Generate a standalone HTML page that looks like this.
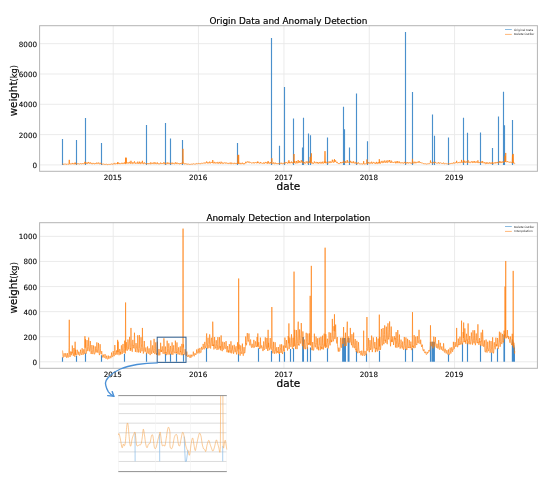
<!DOCTYPE html>
<html><head><meta charset="utf-8"><title>Anomaly Detection</title>
<style>
html,body{margin:0;padding:0;background:#fff;}
svg{display:block}
text{font-family:"DejaVu Sans","Liberation Sans",sans-serif;fill:#000;stroke:#000;stroke-width:0.18px}
.tk{font-size:7.2px;stroke-width:0.1px}
.lg{font-size:2.9px;stroke:none;fill:#222}
.grid{stroke:#e9e9e9;stroke-width:0.9;fill:none}
.spine{stroke:#b4b4b4;stroke-width:1;fill:none}
</style></head><body>
<svg width="550" height="483" viewBox="0 0 550 483">
<rect width="550" height="483" fill="#ffffff"/>
<line class="grid" x1="113.20" x2="113.20" y1="25.7" y2="171.3"/>
<line class="grid" x1="198.48" x2="198.48" y1="25.7" y2="171.3"/>
<line class="grid" x1="283.99" x2="283.99" y1="25.7" y2="171.3"/>
<line class="grid" x1="369.27" x2="369.27" y1="25.7" y2="171.3"/>
<line class="grid" x1="454.55" x2="454.55" y1="25.7" y2="171.3"/>
<line class="grid" x1="39.6" x2="537.4" y1="164.90" y2="164.90"/>
<line class="grid" x1="39.6" x2="537.4" y1="134.60" y2="134.60"/>
<line class="grid" x1="39.6" x2="537.4" y1="104.30" y2="104.30"/>
<line class="grid" x1="39.6" x2="537.4" y1="74.00" y2="74.00"/>
<line class="grid" x1="39.6" x2="537.4" y1="43.70" y2="43.70"/>
<path d="M62.50,164.90V138.96 M76.50,164.90V139.90 M85.50,164.90V117.94 M101.50,164.90V142.93 M146.50,164.90V124.90 M165.50,164.90V122.93 M170.50,164.90V138.46 M182.50,164.90V139.90 M237.50,164.90V142.93 M271.50,164.90V37.99 M279.50,164.90V145.77 M284.50,164.90V87.07 M293.50,164.90V118.62 M302.50,164.90V147.48 M303.50,164.90V117.63 M308.50,164.90V133.54 M310.50,164.90V135.21 M327.50,164.90V137.48 M343.50,164.90V106.72 M344.50,164.90V129.22 M349.50,164.90V147.48 M356.50,164.90V93.39 M367.50,164.90V141.16 M405.50,164.90V32.03 M412.50,164.90V92.07 M432.50,164.90V114.60 M434.50,164.90V135.86 M448.50,164.90V137.48 M463.50,164.90V117.63 M467.50,164.90V132.86 M480.50,164.90V132.54 M492.50,164.90V148.08 M498.50,164.90V116.62 M503.50,164.90V91.73 M504.50,164.90V125.21 M512.50,164.90V119.90" stroke="#4a90cc" stroke-width="1.15" fill="none"/>
<path d="M62.50,163.54 L62.73,163.70 L62.97,164.25 L63.20,164.39 L63.43,164.35 L63.67,164.32 L63.90,164.04 L64.14,163.87 L64.37,164.15 L64.60,164.18 L64.84,164.25 L65.07,164.30 L65.30,164.24 L65.54,164.16 L65.77,163.86 L66.00,164.07 L66.24,164.19 L66.47,164.39 L66.71,164.39 L66.94,164.33 L67.17,164.07 L67.41,163.86 L67.64,164.10 L67.87,164.37 L68.11,164.37 L68.34,164.36 L68.57,164.28 L68.81,163.98 L69.04,163.15 L69.28,159.87 L69.51,163.96 L69.74,164.06 L69.98,164.32 L70.21,164.23 L70.44,163.77 L70.68,163.66 L70.91,163.87 L71.14,164.02 L71.38,164.10 L71.61,163.80 L71.85,163.69 L72.08,163.86 L72.31,162.93 L72.55,163.32 L72.78,163.92 L73.01,163.90 L73.25,164.18 L73.48,164.11 L73.71,163.79 L73.95,163.24 L74.18,163.67 L74.42,163.95 L74.65,164.04 L74.88,164.29 L75.12,162.48 L75.35,164.04 L75.58,163.45 L75.82,163.89 L76.05,164.05 L76.28,164.08 L76.52,164.11 L76.75,163.90 L76.99,163.83 L77.22,163.45 L77.45,163.64 L77.69,163.80 L77.92,163.95 L78.15,164.04 L78.39,163.95 L78.62,163.68 L78.85,163.69 L79.09,163.73 L79.32,164.10 L79.56,164.14 L79.79,164.14 L80.02,164.01 L80.26,163.88 L80.49,163.44 L80.72,163.66 L80.96,163.86 L81.19,163.99 L81.42,164.04 L81.66,164.07 L81.89,163.76 L82.13,163.26 L82.36,163.58 L82.59,163.86 L82.83,163.89 L83.06,164.06 L83.29,163.96 L83.53,163.74 L83.76,163.39 L84.00,163.65 L84.23,163.87 L84.46,163.95 L84.70,163.91 L84.93,161.81 L85.16,163.20 L85.40,162.15 L85.63,162.99 L85.86,163.43 L86.10,163.93 L86.33,163.70 L86.57,163.49 L86.80,163.37 L87.03,162.28 L87.27,163.05 L87.50,163.54 L87.73,163.60 L87.97,163.61 L88.20,163.40 L88.43,163.05 L88.67,161.96 L88.90,162.71 L89.14,163.15 L89.37,163.54 L89.60,163.64 L89.84,163.32 L90.07,162.99 L90.30,162.39 L90.54,162.82 L90.77,163.60 L91.00,163.90 L91.24,163.96 L91.47,163.72 L91.71,163.56 L91.94,162.88 L92.17,163.39 L92.41,163.78 L92.64,163.91 L92.87,163.97 L93.11,163.75 L93.34,163.44 L93.57,162.93 L93.81,163.37 L94.04,163.84 L94.28,163.98 L94.51,163.99 L94.74,163.97 L94.98,163.66 L95.21,163.04 L95.44,163.26 L95.68,163.62 L95.91,163.78 L96.14,163.69 L96.38,163.73 L96.61,163.27 L96.85,162.56 L97.08,163.09 L97.31,163.46 L97.55,163.70 L97.78,163.79 L98.01,163.50 L98.25,163.24 L98.48,162.62 L98.71,163.27 L98.95,163.85 L99.18,163.90 L99.42,164.09 L99.65,163.89 L99.88,163.48 L100.12,162.77 L100.35,163.29 L100.58,163.78 L100.82,163.81 L101.05,163.98 L101.28,163.92 L101.52,163.69 L101.75,163.61 L101.99,163.99 L102.22,164.07 L102.45,164.16 L102.69,164.37 L102.92,164.36 L103.15,164.21 L103.39,164.03 L103.62,164.19 L103.85,164.32 L104.09,164.40 L104.32,164.39 L104.56,164.37 L104.79,164.30 L105.02,163.97 L105.26,164.23 L105.49,164.42 L105.72,164.44 L105.96,164.52 L106.19,164.44 L106.42,164.38 L106.66,164.17 L106.89,164.33 L107.13,164.50 L107.36,164.56 L107.59,164.60 L107.83,164.52 L108.06,164.44 L108.29,164.15 L108.53,164.32 L108.76,164.50 L108.99,164.53 L109.23,164.49 L109.46,164.43 L109.70,164.35 L109.93,164.22 L110.16,164.19 L110.40,164.34 L110.63,164.39 L110.86,164.46 L111.10,164.36 L111.33,164.18 L111.56,163.79 L111.80,164.03 L112.03,164.17 L112.27,164.32 L112.50,164.30 L112.73,164.27 L112.97,164.07 L113.20,163.61 L113.43,163.74 L113.67,164.03 L113.90,164.10 L114.13,164.22 L114.37,163.96 L114.60,163.77 L114.84,162.87 L115.07,163.55 L115.30,163.77 L115.54,164.03 L115.77,164.04 L116.00,164.05 L116.24,163.80 L116.47,163.53 L116.70,163.82 L116.94,163.97 L117.17,164.04 L117.41,164.00 L117.64,162.25 L117.87,163.74 L118.11,162.46 L118.34,163.46 L118.57,163.76 L118.81,164.00 L119.04,164.10 L119.27,164.04 L119.51,163.38 L119.74,163.35 L119.98,163.48 L120.21,163.89 L120.44,163.71 L120.68,164.03 L120.91,163.82 L121.14,163.52 L121.38,162.92 L121.61,162.93 L121.84,163.49 L122.08,163.96 L122.31,163.86 L122.55,163.56 L122.78,163.13 L123.01,162.74 L123.25,163.38 L123.48,163.51 L123.71,163.52 L123.95,163.81 L124.18,163.67 L124.41,163.30 L124.65,162.35 L124.88,162.68 L125.12,163.69 L125.35,163.88 L125.58,157.73 L125.82,163.52 L126.05,163.11 L126.28,157.73 L126.52,163.15 L126.75,163.33 L126.98,163.40 L127.22,163.57 L127.45,163.32 L127.69,163.00 L127.92,162.21 L128.15,162.46 L128.39,162.99 L128.62,163.39 L128.85,163.38 L129.09,163.14 L129.32,162.66 L129.55,161.88 L129.79,162.56 L130.02,162.90 L130.26,163.58 L130.49,163.24 L130.72,163.41 L130.96,160.81 L131.19,162.32 L131.42,163.04 L131.66,163.13 L131.89,163.56 L132.12,163.67 L132.36,163.67 L132.59,162.96 L132.83,162.25 L133.06,162.98 L133.29,162.91 L133.53,163.22 L133.76,163.19 L133.99,163.27 L134.23,162.76 L134.46,161.39 L134.69,162.25 L134.93,163.30 L135.16,163.31 L135.40,163.71 L135.63,163.35 L135.86,162.72 L136.10,162.64 L136.33,162.85 L136.56,163.26 L136.80,163.36 L137.03,163.75 L137.26,163.55 L137.50,163.36 L137.73,161.70 L137.97,162.57 L138.20,163.31 L138.43,163.39 L138.67,163.78 L138.90,163.51 L139.13,162.85 L139.37,161.67 L139.60,163.22 L139.83,163.30 L140.07,163.72 L140.30,163.72 L140.54,163.82 L140.77,163.01 L141.00,161.93 L141.24,162.67 L141.47,162.85 L141.70,163.17 L141.94,163.63 L142.17,163.44 L142.41,160.81 L142.64,162.32 L142.87,163.11 L143.11,163.20 L143.34,163.90 L143.57,163.84 L143.81,163.66 L144.04,163.13 L144.27,162.39 L144.51,162.70 L144.74,163.52 L144.98,163.68 L145.21,163.66 L145.44,163.64 L145.68,163.30 L145.91,163.17 L146.14,163.62 L146.38,163.85 L146.61,163.98 L146.84,163.88 L147.08,163.83 L147.31,163.57 L147.55,163.05 L147.78,163.32 L148.01,163.77 L148.25,163.83 L148.48,163.82 L148.71,163.91 L148.95,163.34 L149.18,163.27 L149.41,163.73 L149.65,163.80 L149.88,164.06 L150.12,164.05 L150.35,164.06 L150.58,163.90 L150.82,162.31 L151.05,163.07 L151.28,163.62 L151.52,163.76 L151.75,163.94 L151.98,163.60 L152.22,163.48 L152.45,162.93 L152.69,162.93 L152.92,163.66 L153.15,163.64 L153.39,163.83 L153.62,163.56 L153.85,163.23 L154.09,162.13 L154.32,163.26 L154.55,163.51 L154.79,163.97 L155.02,163.84 L155.26,163.82 L155.49,163.46 L155.72,162.55 L155.96,163.23 L156.19,163.76 L156.42,164.06 L156.66,163.86 L156.89,164.00 L157.12,163.73 L157.36,162.47 L157.59,163.02 L157.83,163.70 L158.06,164.11 L158.29,164.11 L158.53,164.00 L158.76,163.70 L158.99,163.35 L159.23,163.66 L159.46,163.84 L159.69,164.11 L159.93,164.11 L160.16,163.79 L160.40,163.59 L160.63,162.60 L160.86,163.23 L161.10,163.70 L161.33,163.51 L161.56,163.69 L161.80,163.72 L162.03,163.30 L162.26,163.04 L162.50,163.53 L162.73,163.68 L162.97,163.86 L163.20,163.94 L163.43,163.68 L163.67,163.36 L163.90,162.06 L164.13,162.69 L164.37,163.69 L164.60,163.85 L164.83,163.97 L165.07,163.94 L165.30,163.38 L165.54,163.06 L165.77,163.85 L166.00,163.71 L166.24,164.08 L166.47,164.08 L166.70,164.08 L166.94,163.73 L167.17,162.35 L167.40,163.32 L167.64,163.76 L167.87,163.96 L168.11,164.03 L168.34,163.86 L168.57,163.33 L168.81,162.67 L169.04,163.06 L169.27,163.36 L169.51,163.91 L169.74,164.02 L169.97,163.73 L170.21,163.46 L170.44,162.98 L170.68,163.16 L170.91,163.75 L171.14,163.89 L171.38,164.02 L171.61,163.63 L171.84,163.56 L172.08,162.56 L172.31,163.13 L172.54,163.73 L172.78,164.06 L173.01,164.00 L173.25,163.75 L173.48,163.19 L173.71,162.91 L173.95,163.56 L174.18,163.77 L174.41,163.85 L174.65,163.84 L174.88,163.84 L175.11,163.54 L175.35,162.34 L175.58,162.88 L175.82,163.64 L176.05,163.90 L176.28,163.72 L176.52,163.83 L176.75,163.15 L176.98,162.56 L177.22,163.29 L177.45,163.56 L177.68,163.84 L177.92,164.00 L178.15,163.97 L178.39,163.64 L178.62,163.15 L178.85,163.39 L179.09,163.81 L179.32,164.03 L179.55,163.94 L179.79,163.93 L180.02,163.76 L180.25,163.04 L180.49,163.72 L180.72,163.60 L180.96,163.99 L181.19,164.10 L181.42,163.96 L181.66,163.71 L181.89,162.74 L182.12,163.37 L182.36,163.53 L182.59,163.66 L182.82,148.99 L183.06,148.81 L183.29,163.16 L183.53,162.80 L183.76,163.67 L183.99,163.83 L184.23,163.90 L184.46,164.02 L184.69,163.96 L184.93,163.95 L185.16,163.37 L185.39,163.86 L185.63,163.90 L185.86,164.13 L186.10,164.18 L186.33,164.18 L186.56,164.12 L186.80,163.67 L187.03,163.97 L187.26,164.18 L187.50,164.20 L187.73,164.31 L187.96,164.28 L188.20,164.15 L188.43,164.06 L188.67,164.17 L188.90,164.24 L189.13,164.32 L189.37,164.35 L189.60,164.37 L189.83,164.27 L190.07,164.04 L190.30,164.22 L190.53,164.37 L190.77,164.38 L191.00,164.41 L191.24,164.32 L191.47,164.18 L191.70,164.05 L191.94,164.19 L192.17,164.19 L192.40,164.24 L192.64,164.21 L192.87,164.14 L193.10,163.97 L193.34,163.67 L193.57,163.95 L193.81,164.10 L194.04,164.21 L194.27,164.24 L194.51,164.13 L194.74,163.90 L194.97,163.85 L195.21,163.89 L195.44,163.98 L195.67,164.07 L195.91,164.01 L196.14,164.01 L196.38,163.86 L196.61,163.42 L196.84,163.58 L197.08,163.85 L197.31,163.84 L197.54,163.87 L197.78,163.84 L198.01,163.52 L198.24,163.31 L198.48,163.51 L198.71,163.77 L198.95,163.85 L199.18,163.88 L199.41,163.75 L199.65,163.50 L199.88,163.23 L200.11,163.60 L200.35,163.66 L200.58,163.79 L200.81,163.80 L201.05,163.78 L201.28,163.56 L201.52,163.10 L201.75,163.12 L201.98,163.27 L202.22,163.36 L202.45,163.42 L202.68,163.39 L202.92,163.16 L203.15,162.74 L203.39,162.96 L203.62,163.19 L203.85,163.32 L204.09,163.39 L204.32,163.38 L204.55,162.91 L204.79,162.49 L205.02,162.90 L205.25,162.94 L205.49,163.10 L205.72,163.24 L205.96,163.07 L206.19,162.79 L206.42,161.87 L206.66,161.48 L206.89,162.91 L207.12,163.06 L207.36,163.30 L207.59,162.72 L207.82,162.61 L208.06,161.99 L208.29,162.81 L208.53,162.86 L208.76,163.25 L208.99,163.23 L209.23,163.17 L209.46,162.76 L209.69,161.59 L209.93,162.38 L210.16,162.75 L210.39,163.19 L210.63,163.29 L210.86,162.91 L211.10,162.26 L211.33,161.99 L211.56,162.04 L211.80,162.66 L212.03,162.94 L212.26,162.87 L212.50,162.96 L212.73,160.05 L212.96,161.32 L213.20,162.34 L213.43,163.00 L213.67,162.83 L213.90,163.40 L214.13,163.31 L214.37,162.66 L214.60,161.90 L214.83,162.51 L215.07,163.02 L215.30,163.07 L215.53,163.28 L215.77,163.25 L216.00,162.73 L216.24,162.30 L216.47,162.70 L216.70,163.05 L216.94,163.48 L217.17,163.42 L217.40,163.26 L217.64,162.80 L217.87,161.92 L218.10,162.67 L218.34,163.32 L218.57,163.40 L218.81,163.39 L219.04,163.20 L219.27,162.85 L219.51,161.93 L219.74,162.64 L219.97,163.27 L220.21,162.99 L220.44,163.48 L220.67,163.51 L220.91,163.00 L221.14,161.71 L221.38,162.65 L221.61,163.11 L221.84,163.41 L222.08,163.59 L222.31,163.61 L222.54,162.99 L222.78,162.48 L223.01,162.93 L223.24,163.15 L223.48,163.42 L223.71,163.41 L223.95,163.32 L224.18,162.75 L224.41,162.54 L224.65,162.79 L224.88,163.25 L225.11,163.32 L225.35,163.33 L225.58,163.29 L225.81,162.89 L226.05,162.40 L226.28,162.76 L226.52,163.05 L226.75,163.41 L226.98,163.74 L227.22,163.34 L227.45,163.13 L227.68,163.00 L227.92,163.36 L228.15,163.74 L228.38,163.78 L228.62,163.53 L228.85,163.75 L229.09,163.49 L229.32,162.76 L229.55,163.03 L229.79,163.39 L230.02,163.80 L230.25,163.82 L230.49,163.75 L230.72,163.38 L230.95,162.42 L231.19,163.23 L231.42,163.39 L231.66,163.88 L231.89,163.77 L232.12,163.60 L232.36,163.33 L232.59,162.93 L232.82,163.37 L233.06,163.49 L233.29,163.65 L233.52,163.93 L233.76,163.86 L233.99,163.45 L234.23,162.85 L234.46,163.37 L234.69,163.42 L234.93,163.58 L235.16,163.74 L235.39,163.61 L235.63,163.24 L235.86,163.13 L236.09,163.02 L236.33,163.78 L236.56,164.00 L236.80,163.76 L237.03,163.66 L237.26,163.37 L237.50,162.55 L237.73,163.33 L237.96,155.05 L238.20,163.64 L238.43,164.00 L238.66,154.84 L238.90,163.39 L239.13,162.81 L239.37,163.53 L239.60,163.67 L239.83,163.98 L240.07,164.15 L240.30,164.12 L240.53,163.65 L240.77,162.92 L241.00,163.55 L241.23,163.62 L241.47,163.88 L241.70,163.86 L241.94,163.94 L242.17,163.66 L242.40,162.71 L242.64,163.24 L242.87,163.60 L243.10,164.15 L243.34,164.15 L243.57,164.01 L243.80,163.64 L244.04,163.13 L244.27,163.65 L244.51,163.86 L244.74,163.84 L244.97,163.74 L245.21,163.36 L245.44,163.01 L245.67,161.84 L245.91,162.74 L246.14,162.68 L246.37,162.90 L246.61,162.78 L246.84,162.53 L247.08,161.78 L247.31,161.43 L247.54,161.92 L247.78,162.24 L248.01,162.43 L248.24,162.46 L248.48,162.41 L248.71,162.18 L248.94,161.48 L249.18,162.21 L249.41,162.65 L249.65,162.73 L249.88,162.92 L250.11,162.75 L250.35,162.33 L250.58,162.21 L250.81,162.50 L251.05,162.91 L251.28,163.09 L251.51,163.19 L251.75,163.10 L251.98,162.83 L252.22,162.72 L252.45,162.98 L252.68,163.13 L252.92,163.19 L253.15,163.20 L253.38,163.15 L253.62,163.03 L253.85,162.25 L254.08,162.69 L254.32,163.17 L254.55,163.11 L254.79,163.07 L255.02,163.06 L255.25,162.83 L255.49,162.44 L255.72,162.50 L255.95,162.87 L256.19,163.11 L256.42,163.07 L256.65,163.10 L256.89,162.79 L257.12,161.91 L257.36,162.63 L257.59,163.02 L257.82,161.48 L258.06,163.13 L258.29,162.89 L258.52,162.69 L258.76,162.54 L258.99,162.93 L259.23,163.01 L259.46,163.34 L259.69,163.22 L259.93,163.27 L260.16,163.20 L260.39,161.97 L260.63,162.64 L260.86,163.16 L261.09,163.29 L261.33,163.14 L261.56,162.97 L261.80,162.92 L262.03,163.04 L262.26,163.11 L262.50,163.27 L262.73,163.58 L262.96,163.58 L263.20,163.58 L263.43,163.30 L263.66,162.44 L263.90,162.73 L264.13,163.41 L264.37,163.47 L264.60,163.39 L264.83,163.31 L265.07,162.77 L265.30,161.95 L265.53,162.50 L265.77,162.99 L266.00,163.13 L266.23,163.33 L266.47,163.18 L266.70,162.72 L266.94,162.02 L267.17,162.76 L267.40,163.35 L267.64,163.48 L267.87,163.59 L268.10,161.04 L268.34,163.16 L268.57,162.61 L268.80,162.91 L269.04,163.36 L269.27,163.50 L269.51,163.40 L269.74,163.22 L269.97,163.14 L270.21,162.03 L270.44,163.00 L270.67,163.27 L270.91,163.40 L271.14,163.42 L271.37,163.44 L271.61,163.10 L271.84,158.28 L272.08,162.77 L272.31,163.30 L272.54,163.66 L272.78,163.87 L273.01,163.76 L273.24,163.27 L273.48,162.49 L273.71,163.40 L273.94,163.72 L274.18,163.79 L274.41,163.94 L274.65,163.62 L274.88,163.42 L275.11,162.54 L275.35,163.15 L275.58,163.61 L275.81,163.68 L276.05,163.87 L276.28,163.90 L276.51,163.47 L276.75,163.14 L276.98,163.50 L277.22,163.78 L277.45,163.78 L277.68,163.63 L277.92,163.76 L278.15,163.66 L278.38,163.12 L278.62,163.37 L278.85,163.88 L279.08,163.72 L279.32,163.95 L279.55,163.87 L279.79,163.26 L280.02,162.81 L280.25,163.20 L280.49,163.22 L280.72,163.53 L280.95,163.82 L281.19,163.71 L281.42,163.26 L281.65,162.78 L281.89,163.49 L282.12,163.85 L282.36,163.83 L282.59,163.96 L282.82,163.69 L283.06,163.51 L283.29,162.93 L283.52,163.23 L283.76,163.54 L283.99,163.46 L284.22,163.67 L284.46,163.21 L284.69,162.81 L284.93,161.98 L285.16,162.60 L285.39,163.14 L285.63,163.06 L285.86,163.23 L286.09,163.14 L286.33,162.86 L286.56,162.27 L286.79,162.86 L287.03,163.14 L287.26,163.21 L287.50,163.53 L287.73,163.33 L287.96,162.95 L288.20,161.78 L288.43,162.19 L288.66,162.66 L288.90,160.26 L289.13,163.36 L289.36,163.09 L289.60,162.10 L289.83,161.98 L290.07,162.10 L290.30,162.94 L290.53,162.99 L290.77,163.08 L291.00,162.96 L291.23,162.71 L291.47,161.58 L291.70,162.13 L291.93,163.11 L292.17,163.14 L292.40,163.34 L292.64,163.19 L292.87,162.51 L293.10,161.99 L293.34,162.84 L293.57,163.06 L293.80,163.13 L294.04,154.01 L294.27,163.00 L294.50,162.22 L294.74,161.03 L294.97,162.14 L295.21,162.53 L295.44,163.02 L295.67,163.36 L295.91,162.94 L296.14,162.75 L296.37,161.06 L296.61,161.90 L296.84,162.65 L297.07,163.37 L297.31,162.67 L297.54,162.49 L297.78,161.85 L298.01,160.92 L298.24,160.05 L298.48,162.84 L298.71,162.75 L298.94,162.95 L299.18,162.92 L299.41,162.35 L299.64,160.99 L299.88,161.99 L300.11,162.34 L300.35,162.58 L300.58,162.68 L300.81,162.41 L301.05,161.55 L301.28,160.22 L301.51,161.03 L301.75,162.12 L301.98,162.68 L302.21,162.82 L302.45,163.02 L302.68,162.00 L302.92,161.23 L303.15,162.09 L303.38,162.68 L303.62,163.37 L303.85,163.37 L304.08,163.29 L304.32,162.61 L304.55,162.21 L304.78,163.16 L305.02,163.20 L305.25,163.37 L305.49,163.37 L305.72,162.85 L305.95,162.24 L306.19,161.40 L306.42,162.13 L306.65,162.62 L306.89,162.90 L307.12,163.13 L307.35,163.37 L307.59,162.42 L307.82,161.48 L308.06,162.14 L308.29,162.72 L308.52,162.86 L308.76,162.65 L308.99,162.75 L309.22,162.60 L309.46,161.47 L309.69,161.93 L309.92,162.87 L310.16,156.93 L310.39,162.93 L310.63,162.89 L310.86,162.72 L311.09,161.40 L311.33,153.31 L311.56,163.14 L311.79,163.48 L312.03,163.48 L312.26,163.49 L312.49,163.25 L312.73,162.51 L312.96,163.19 L313.20,163.51 L313.43,163.51 L313.66,163.51 L313.90,163.35 L314.13,162.82 L314.36,161.50 L314.60,162.39 L314.83,162.81 L315.06,162.98 L315.30,163.15 L315.53,162.81 L315.77,162.60 L316.00,161.85 L316.23,162.04 L316.47,162.57 L316.70,162.93 L316.93,163.32 L317.17,163.39 L317.40,162.89 L317.63,162.06 L317.87,162.89 L318.10,163.27 L318.34,163.17 L318.57,163.51 L318.80,162.91 L319.04,162.67 L319.27,161.98 L319.50,162.61 L319.74,162.92 L319.97,163.06 L320.21,163.51 L320.44,163.23 L320.67,162.94 L320.91,161.87 L321.14,162.15 L321.37,163.12 L321.61,163.31 L321.84,163.13 L322.07,163.39 L322.31,162.66 L322.54,161.74 L322.78,162.83 L323.01,162.82 L323.24,163.32 L323.48,163.40 L323.71,162.93 L323.94,162.62 L324.18,161.50 L324.41,162.52 L324.64,163.01 L324.88,151.42 L325.11,151.11 L325.35,163.22 L325.58,162.50 L325.81,161.56 L326.05,162.08 L326.28,162.81 L326.51,163.01 L326.75,163.15 L326.98,162.72 L327.21,162.61 L327.45,162.11 L327.68,162.27 L327.92,162.99 L328.15,163.28 L328.38,163.15 L328.62,162.83 L328.85,162.58 L329.08,161.33 L329.32,162.16 L329.55,162.71 L329.78,162.80 L330.02,162.92 L330.25,162.88 L330.49,162.43 L330.72,161.40 L330.95,162.06 L331.19,162.52 L331.42,162.33 L331.65,162.52 L331.89,162.25 L332.12,161.55 L332.35,159.72 L332.59,161.27 L332.82,162.03 L333.06,162.44 L333.29,162.42 L333.52,162.39 L333.76,161.76 L333.99,160.60 L334.22,161.20 L334.46,159.16 L334.69,162.08 L334.92,162.16 L335.16,161.88 L335.39,161.34 L335.63,160.40 L335.86,161.37 L336.09,161.97 L336.33,162.18 L336.56,162.54 L336.79,162.67 L337.03,162.55 L337.26,161.91 L337.49,162.79 L337.73,163.07 L337.96,163.42 L338.20,163.67 L338.43,163.66 L338.66,163.36 L338.90,163.19 L339.13,163.60 L339.36,163.62 L339.60,163.64 L339.83,163.58 L340.06,163.24 L340.30,163.15 L340.53,162.00 L340.77,162.53 L341.00,162.75 L341.23,162.98 L341.47,163.19 L341.70,163.05 L341.93,162.13 L342.17,161.97 L342.40,162.49 L342.63,162.69 L342.87,162.58 L343.10,162.72 L343.34,162.63 L343.57,160.70 L343.80,161.87 L344.04,162.25 L344.27,163.03 L344.50,162.91 L344.74,162.98 L344.97,162.74 L345.20,162.64 L345.44,161.38 L345.67,162.36 L345.91,162.58 L346.14,162.98 L346.37,162.83 L346.61,162.66 L346.84,162.07 L347.07,160.79 L347.31,160.05 L347.54,162.49 L347.77,162.48 L348.01,162.49 L348.24,162.59 L348.48,161.94 L348.71,161.83 L348.94,162.29 L349.18,162.40 L349.41,162.48 L349.64,162.56 L349.88,162.57 L350.11,162.28 L350.34,160.81 L350.58,161.71 L350.81,162.49 L351.05,162.56 L351.28,162.72 L351.51,162.89 L351.75,161.91 L351.98,161.56 L352.21,162.02 L352.45,162.72 L352.68,162.85 L352.91,163.18 L353.15,162.78 L353.38,162.77 L353.62,161.37 L353.85,162.45 L354.08,162.91 L354.32,163.24 L354.55,163.26 L354.78,163.14 L355.02,162.37 L355.25,162.16 L355.48,162.91 L355.72,163.45 L355.95,163.34 L356.19,163.69 L356.42,163.48 L356.65,163.37 L356.89,162.36 L357.12,163.14 L357.35,163.72 L357.59,163.71 L357.82,163.86 L358.05,163.67 L358.29,163.07 L358.52,162.53 L358.76,163.22 L358.99,163.49 L359.22,163.61 L359.46,163.82 L359.69,163.76 L359.92,163.76 L360.16,163.61 L360.39,163.79 L360.62,164.01 L360.86,164.10 L361.09,164.11 L361.33,164.08 L361.56,164.02 L361.79,163.55 L362.03,163.83 L362.26,164.04 L362.49,164.15 L362.73,164.02 L362.96,163.90 L363.19,163.82 L363.43,163.53 L363.66,161.14 L363.90,164.11 L364.13,164.13 L364.36,164.18 L364.60,164.09 L364.83,164.01 L365.06,163.59 L365.30,163.89 L365.53,164.00 L365.76,164.03 L366.00,164.11 L366.23,164.01 L366.47,163.90 L366.70,163.18 L366.93,159.49 L367.17,163.27 L367.40,163.51 L367.63,163.55 L367.87,163.43 L368.10,163.05 L368.33,162.02 L368.57,162.50 L368.80,163.32 L369.04,163.54 L369.27,163.74 L369.50,163.26 L369.74,163.03 L369.97,162.28 L370.20,162.58 L370.44,163.20 L370.67,163.48 L370.90,163.30 L371.14,163.31 L371.37,162.76 L371.61,161.73 L371.84,162.48 L372.07,163.37 L372.31,163.73 L372.54,163.48 L372.77,163.44 L373.01,162.94 L373.24,161.96 L373.47,162.13 L373.71,162.57 L373.94,163.02 L374.18,163.28 L374.41,163.20 L374.64,163.06 L374.88,162.51 L375.11,162.87 L375.34,163.74 L375.58,163.56 L375.81,163.64 L376.04,163.20 L376.28,163.38 L376.51,161.90 L376.75,162.89 L376.98,163.15 L377.21,163.60 L377.45,163.65 L377.68,163.50 L377.91,163.02 L378.15,162.09 L378.38,163.03 L378.62,163.20 L378.85,163.46 L379.08,163.53 L379.32,159.20 L379.55,163.05 L379.78,161.90 L380.02,162.67 L380.25,163.48 L380.48,163.44 L380.72,163.23 L380.95,162.65 L381.19,161.34 L381.42,160.93 L381.65,161.19 L381.89,162.55 L382.12,162.91 L382.35,162.91 L382.59,162.73 L382.82,161.95 L383.05,160.83 L383.29,161.61 L383.52,162.48 L383.76,162.76 L383.99,162.78 L384.22,162.41 L384.46,161.62 L384.69,160.50 L384.92,161.01 L385.16,162.36 L385.39,162.25 L385.62,162.59 L385.86,162.61 L386.09,162.00 L386.33,160.66 L386.56,161.55 L386.79,162.19 L387.03,162.69 L387.26,162.77 L387.49,162.34 L387.73,161.19 L387.96,160.25 L388.19,161.02 L388.43,161.94 L388.66,162.20 L388.90,161.95 L389.13,161.91 L389.36,161.39 L389.60,160.02 L389.83,161.18 L390.06,162.19 L390.30,162.48 L390.53,163.02 L390.76,162.54 L391.00,161.76 L391.23,160.64 L391.47,161.57 L391.70,162.49 L391.93,162.22 L392.17,162.52 L392.40,162.32 L392.63,161.90 L392.87,161.83 L393.10,162.01 L393.33,162.44 L393.57,162.87 L393.80,162.52 L394.04,162.42 L394.27,162.30 L394.50,161.82 L394.74,161.89 L394.97,162.18 L395.20,162.04 L395.44,163.16 L395.67,163.16 L395.90,162.49 L396.14,161.32 L396.37,162.29 L396.61,162.82 L396.84,163.19 L397.07,163.20 L397.31,163.00 L397.54,162.06 L397.77,161.06 L398.01,161.97 L398.24,162.49 L398.47,162.77 L398.71,163.13 L398.94,162.71 L399.18,162.71 L399.41,161.61 L399.64,162.58 L399.88,163.10 L400.11,163.30 L400.34,163.24 L400.58,163.09 L400.81,162.69 L401.04,162.22 L401.28,162.59 L401.51,162.80 L401.75,163.12 L401.98,163.09 L402.21,163.28 L402.45,162.94 L402.68,162.45 L402.91,162.83 L403.15,163.09 L403.38,163.32 L403.61,163.45 L403.85,163.18 L404.08,162.83 L404.32,161.90 L404.55,162.69 L404.78,162.92 L405.02,163.16 L405.25,163.36 L405.48,163.33 L405.72,162.99 L405.95,161.96 L406.18,162.87 L406.42,163.18 L406.65,163.48 L406.89,163.48 L407.12,163.33 L407.35,162.75 L407.59,162.13 L407.82,162.61 L408.05,163.21 L408.29,163.15 L408.52,163.22 L408.75,163.18 L408.99,162.88 L409.22,162.28 L409.46,162.71 L409.69,162.97 L409.92,163.24 L410.16,163.11 L410.39,163.20 L410.62,162.69 L410.86,162.46 L411.09,162.63 L411.32,163.45 L411.56,163.45 L411.79,163.44 L412.03,163.20 L412.26,162.70 L412.49,158.90 L412.73,163.11 L412.96,162.94 L413.19,163.25 L413.43,163.21 L413.66,162.99 L413.89,162.98 L414.13,161.68 L414.36,162.77 L414.60,162.86 L414.83,163.24 L415.06,163.22 L415.30,163.14 L415.53,162.63 L415.76,161.85 L416.00,162.51 L416.23,162.84 L416.46,162.86 L416.70,162.79 L416.93,162.83 L417.17,162.38 L417.40,161.80 L417.63,162.24 L417.87,162.61 L418.10,162.62 L418.33,162.64 L418.57,162.30 L418.80,162.19 L419.03,161.04 L419.27,162.22 L419.50,162.28 L419.74,162.69 L419.97,162.72 L420.20,162.65 L420.44,162.68 L420.67,162.23 L420.90,162.57 L421.14,162.87 L421.37,162.88 L421.60,163.11 L421.84,163.04 L422.07,163.02 L422.31,162.83 L422.54,163.09 L422.77,163.36 L423.01,163.48 L423.24,163.55 L423.47,163.59 L423.71,163.59 L423.94,163.39 L424.17,163.62 L424.41,163.68 L424.64,163.82 L424.88,163.84 L425.11,163.81 L425.34,163.77 L425.58,163.68 L425.81,163.87 L426.04,163.92 L426.28,164.03 L426.51,164.02 L426.74,163.99 L426.98,163.92 L427.21,163.70 L427.45,163.86 L427.68,163.84 L427.91,163.84 L428.15,163.82 L428.38,163.75 L428.61,163.66 L428.85,163.50 L429.08,163.62 L429.31,163.64 L429.55,163.62 L429.78,163.47 L430.02,163.37 L430.25,162.92 L430.48,160.49 L430.72,162.15 L430.95,162.66 L431.18,162.96 L431.42,163.02 L431.65,162.89 L431.88,162.50 L432.12,162.48 L432.35,162.80 L432.59,163.07 L432.82,163.25 L433.05,163.20 L433.29,163.26 L433.52,163.01 L433.75,161.86 L433.99,162.40 L434.22,162.78 L434.45,162.79 L434.69,163.07 L434.92,162.87 L435.16,162.31 L435.39,161.91 L435.62,162.60 L435.86,162.79 L436.09,162.99 L436.32,163.20 L436.56,163.14 L436.79,163.08 L437.03,162.72 L437.26,162.94 L437.49,163.23 L437.73,163.23 L437.96,163.29 L438.19,163.21 L438.43,163.11 L438.66,162.28 L438.89,162.64 L439.13,163.23 L439.36,163.42 L439.60,163.41 L439.83,163.31 L440.06,162.94 L440.30,162.61 L440.53,162.93 L440.76,163.16 L441.00,163.29 L441.23,163.42 L441.46,163.30 L441.70,163.11 L441.93,163.05 L442.17,163.44 L442.40,163.40 L442.63,163.54 L442.87,163.57 L443.10,163.58 L443.33,163.43 L443.57,162.67 L443.80,163.01 L444.03,163.50 L444.27,163.68 L444.50,163.77 L444.74,163.64 L444.97,163.42 L445.20,163.33 L445.44,163.60 L445.67,163.66 L445.90,163.71 L446.14,163.88 L446.37,163.76 L446.60,163.70 L446.84,163.49 L447.07,163.61 L447.31,163.87 L447.54,163.98 L447.77,164.00 L448.01,163.97 L448.24,163.75 L448.47,163.41 L448.71,163.81 L448.94,163.96 L449.17,164.03 L449.41,164.06 L449.64,163.99 L449.88,163.69 L450.11,163.20 L450.34,163.52 L450.58,163.77 L450.81,163.90 L451.04,163.86 L451.28,163.67 L451.51,163.52 L451.74,163.14 L451.98,163.23 L452.21,163.50 L452.45,163.64 L452.68,163.70 L452.91,163.40 L453.15,163.45 L453.38,162.49 L453.61,162.94 L453.85,163.19 L454.08,163.32 L454.31,163.32 L454.55,163.12 L454.78,162.96 L455.02,162.52 L455.25,162.59 L455.48,163.04 L455.72,162.97 L455.95,163.07 L456.18,163.01 L456.42,162.67 L456.65,160.81 L456.88,162.60 L457.12,162.86 L457.35,163.11 L457.59,163.13 L457.82,163.03 L458.05,162.68 L458.29,162.10 L458.52,162.38 L458.75,162.90 L458.99,162.78 L459.22,162.86 L459.45,162.74 L459.69,162.46 L459.92,161.86 L460.16,162.36 L460.39,162.58 L460.62,162.80 L460.86,162.80 L461.09,162.70 L461.32,162.35 L461.56,159.93 L461.79,162.32 L462.02,162.80 L462.26,162.79 L462.49,162.79 L462.73,162.49 L462.96,162.37 L463.19,161.31 L463.43,162.01 L463.66,160.16 L463.89,162.54 L464.13,162.46 L464.36,162.52 L464.59,161.99 L464.83,160.87 L465.06,161.77 L465.30,162.49 L465.53,162.36 L465.76,162.71 L466.00,162.44 L466.23,162.04 L466.46,161.51 L466.70,161.98 L466.93,162.33 L467.16,162.21 L467.40,162.77 L467.63,162.29 L467.87,162.19 L468.10,160.26 L468.33,162.32 L468.57,162.62 L468.80,162.63 L469.03,162.78 L469.27,162.73 L469.50,162.37 L469.73,161.78 L469.97,162.40 L470.20,162.65 L470.44,162.79 L470.67,162.70 L470.90,162.45 L471.14,162.12 L471.37,161.36 L471.60,161.85 L471.84,162.21 L472.07,162.49 L472.30,162.81 L472.54,162.83 L472.77,162.11 L473.01,161.09 L473.24,161.73 L473.47,162.35 L473.71,162.52 L473.94,162.68 L474.17,162.65 L474.41,162.32 L474.64,161.09 L474.87,161.75 L475.11,162.60 L475.34,162.89 L475.58,162.78 L475.81,162.52 L476.04,161.95 L476.28,161.48 L476.51,162.30 L476.74,162.31 L476.98,162.62 L477.21,162.63 L477.44,162.64 L477.68,162.42 L477.91,160.37 L478.15,162.62 L478.38,162.55 L478.61,162.70 L478.85,162.85 L479.08,162.71 L479.31,162.33 L479.55,162.04 L479.78,162.57 L480.01,162.40 L480.25,162.80 L480.48,162.95 L480.72,162.69 L480.95,162.34 L481.18,161.36 L481.42,162.19 L481.65,162.57 L481.88,162.92 L482.12,163.00 L482.35,162.92 L482.58,161.04 L482.82,161.61 L483.05,162.18 L483.29,162.65 L483.52,162.78 L483.75,163.09 L483.99,162.87 L484.22,162.69 L484.45,162.31 L484.69,163.11 L484.92,163.57 L485.15,163.72 L485.39,163.74 L485.62,163.72 L485.86,163.23 L486.09,162.21 L486.32,162.98 L486.56,163.60 L486.79,163.58 L487.02,163.79 L487.26,163.66 L487.49,163.40 L487.72,162.48 L487.96,163.24 L488.19,163.30 L488.43,163.42 L488.66,163.61 L488.89,163.52 L489.13,163.15 L489.36,162.34 L489.59,162.49 L489.83,163.38 L490.06,163.81 L490.29,163.70 L490.53,163.54 L490.76,163.28 L491.00,162.40 L491.23,162.78 L491.46,163.35 L491.70,163.44 L491.93,163.81 L492.16,163.46 L492.40,163.05 L492.63,161.94 L492.86,163.20 L493.10,163.57 L493.33,163.88 L493.57,163.86 L493.80,163.67 L494.03,162.95 L494.27,162.54 L494.50,162.94 L494.73,163.15 L494.97,163.27 L495.20,163.39 L495.44,163.27 L495.67,162.69 L495.90,161.98 L496.14,162.87 L496.37,163.04 L496.60,162.79 L496.84,162.99 L497.07,162.95 L497.30,162.75 L497.54,162.02 L497.77,162.21 L498.01,163.15 L498.24,163.34 L498.47,163.11 L498.71,162.84 L498.94,162.53 L499.17,162.14 L499.41,161.26 L499.64,162.55 L499.87,162.72 L500.11,163.08 L500.34,162.95 L500.58,162.45 L500.81,161.37 L501.04,161.87 L501.28,162.66 L501.51,162.68 L501.74,162.70 L501.98,162.76 L502.21,161.91 L502.44,161.53 L502.68,161.99 L502.91,162.55 L503.15,162.49 L503.38,162.45 L503.61,162.56 L503.85,161.95 L504.08,161.13 L504.31,161.68 L504.55,161.92 L504.78,162.12 L505.01,155.81 L505.25,161.97 L505.48,161.76 L505.72,152.93 L505.95,161.71 L506.18,161.81 L506.42,162.05 L506.65,162.00 L506.88,162.00 L507.12,161.55 L507.35,161.06 L507.58,161.57 L507.82,161.91 L508.05,161.78 L508.29,161.97 L508.52,162.13 L508.75,161.84 L508.99,161.88 L509.22,162.10 L509.45,162.30 L509.69,162.45 L509.92,162.59 L510.15,162.25 L510.39,162.19 L510.62,161.84 L510.86,162.32 L511.09,162.61 L511.32,162.70 L511.56,162.86 L511.79,162.82 L512.02,162.43 L512.26,161.52 L512.49,154.75 L512.72,162.60 L512.96,163.00 L513.19,153.92 L513.43,163.20 L513.66,163.09 L513.89,162.59 L514.13,163.08 L514.36,163.69 L514.59,163.90 L514.83,163.63" stroke="#ff7f0e" stroke-width="0.75" fill="none" stroke-linejoin="round"/>
<rect class="spine" x="39.6" y="25.7" width="497.80" height="145.60"/>
<text class="tk" x="37.1" y="167.85" text-anchor="end">0</text>
<text class="tk" x="37.1" y="137.55" text-anchor="end">2000</text>
<text class="tk" x="37.1" y="107.25" text-anchor="end">4000</text>
<text class="tk" x="37.1" y="76.95" text-anchor="end">6000</text>
<text class="tk" x="37.1" y="46.65" text-anchor="end">8000</text>
<text class="tk" x="112.80" y="179.6" text-anchor="middle">2015</text>
<text class="tk" x="198.08" y="179.6" text-anchor="middle">2016</text>
<text class="tk" x="283.59" y="179.6" text-anchor="middle">2017</text>
<text class="tk" x="368.87" y="179.6" text-anchor="middle">2018</text>
<text class="tk" x="454.15" y="179.6" text-anchor="middle">2019</text>
<text x="288.4" y="23.8" text-anchor="middle" font-size="8.89px">Origin Data and Anomaly Detection</text>
<text x="288.4" y="189.9" text-anchor="middle" font-size="10.5px">date</text>
<text transform="translate(16.5,116.3) rotate(-90)" font-size="10.3px">weight<tspan font-size="8.3px">(kg)</tspan></text>
<line x1="505" x2="511.8" y1="29.5" y2="29.5" stroke="#5a9fd4" stroke-width="0.7"/><line x1="505" x2="511.8" y1="34.4" y2="34.4" stroke="#ff9a40" stroke-width="0.7"/><text class="lg" x="514.1" y="30.55">Original Data</text><text class="lg" x="514.1" y="35.45">Delete Outlier</text>
<line class="grid" x1="113.20" x2="113.20" y1="222.7" y2="368.3"/>
<line class="grid" x1="198.48" x2="198.48" y1="222.7" y2="368.3"/>
<line class="grid" x1="283.99" x2="283.99" y1="222.7" y2="368.3"/>
<line class="grid" x1="369.27" x2="369.27" y1="222.7" y2="368.3"/>
<line class="grid" x1="454.55" x2="454.55" y1="222.7" y2="368.3"/>
<line class="grid" x1="39.6" x2="537.4" y1="361.80" y2="361.80"/>
<line class="grid" x1="39.6" x2="537.4" y1="336.72" y2="336.72"/>
<line class="grid" x1="39.6" x2="537.4" y1="311.64" y2="311.64"/>
<line class="grid" x1="39.6" x2="537.4" y1="286.56" y2="286.56"/>
<line class="grid" x1="39.6" x2="537.4" y1="261.48" y2="261.48"/>
<line class="grid" x1="39.6" x2="537.4" y1="236.40" y2="236.40"/>
<path d="M62.50,361.80V357.27 M76.50,361.80V355.80 M85.50,361.80V353.22 M101.50,361.80V355.16 M124.50,361.80V353.76 M146.50,361.80V352.94 M165.50,361.80V353.78 M170.50,361.80V353.66 M176.50,361.80V353.81 M183.50,361.80V354.01 M206.50,361.80V348.05 M238.50,361.80V354.01 M258.50,361.80V348.26 M271.50,361.80V350.83 M279.50,361.80V353.65 M284.50,361.80V351.69 M290.50,361.80V349.10 M293.50,361.80V348.34 M302.70,361.80V337.10 M302.95,361.80V337.10 M303.20,361.80V337.10 M303.45,361.80V337.10 M307.50,361.80V347.13 M310.50,361.80V347.60 M327.50,361.80V348.22 M342.70,361.80V338.56 M342.95,361.80V338.15 M343.20,361.80V337.91 M343.45,361.80V337.92 M343.70,361.80V337.93 M343.95,361.80V337.93 M344.20,361.80V337.93 M344.45,361.80V337.94 M344.70,361.80V337.94 M344.95,361.80V337.95 M345.20,361.80V337.95 M345.45,361.80V337.95 M348.20,361.80V338.01 M348.45,361.80V338.01 M348.70,361.80V338.01 M348.95,361.80V338.02 M356.50,361.80V350.82 M366.50,361.80V353.45 M379.50,361.80V350.89 M405.50,361.80V349.01 M412.50,361.80V348.35 M430.50,361.80V341.88 M430.75,361.80V341.73 M431.00,361.80V341.73 M432.60,361.80V341.69 M432.85,361.80V341.69 M433.10,361.80V341.68 M433.35,361.80V341.68 M433.60,361.80V341.67 M433.85,361.80V341.76 M434.10,361.80V341.90 M434.35,361.80V342.17 M448.50,361.80V354.35 M462.50,361.80V343.19 M467.50,361.80V342.99 M480.50,361.80V344.84 M491.50,361.80V352.53 M497.50,361.80V348.16 M504.00,361.80V335.17 M504.25,361.80V334.66 M504.50,361.80V334.16 M512.40,361.80V339.62 M512.65,361.80V339.97 M512.90,361.80V341.09 M513.15,361.80V342.20 M513.40,361.80V343.32 M513.65,361.80V344.43 M513.90,361.80V345.55 M514.15,361.80V346.66 M514.40,361.80V347.78" stroke="#4089c9" stroke-width="1.15" fill="none"/>
<path d="M62.50,350.53 L62.73,351.89 L62.97,356.42 L63.20,357.55 L63.43,357.26 L63.67,356.98 L63.90,354.71 L64.14,353.25 L64.37,355.57 L64.60,355.81 L64.84,356.41 L65.07,356.80 L65.30,356.34 L65.54,355.69 L65.77,353.20 L66.00,354.90 L66.24,355.89 L66.47,357.58 L66.71,357.57 L66.94,357.11 L67.17,354.94 L67.41,353.18 L67.64,355.15 L67.87,357.42 L68.11,357.45 L68.34,357.36 L68.57,356.65 L68.81,354.21 L69.04,347.31 L69.28,319.79 L69.51,353.99 L69.74,354.85 L69.98,357.04 L70.21,356.22 L70.44,352.42 L70.68,351.51 L70.91,353.24 L71.14,354.51 L71.38,355.20 L71.61,352.70 L71.85,351.75 L72.08,353.16 L72.31,345.52 L72.55,348.69 L72.78,353.65 L73.01,353.54 L73.25,355.88 L73.48,355.29 L73.71,352.63 L73.95,348.02 L74.18,351.61 L74.42,353.95 L74.65,354.71 L74.88,356.77 L75.12,341.74 L75.35,354.70 L75.58,349.76 L75.82,353.44 L76.05,354.79 L76.28,355.01 L76.52,355.29 L76.75,353.49 L76.99,352.94 L77.22,349.81 L77.45,351.38 L77.69,352.65 L77.92,353.96 L78.15,354.71 L78.39,353.95 L78.62,351.73 L78.85,351.76 L79.09,352.11 L79.32,355.17 L79.56,355.50 L79.79,355.51 L80.02,354.46 L80.26,353.37 L80.49,349.73 L80.72,351.56 L80.96,353.21 L81.19,354.29 L81.42,354.67 L81.66,354.93 L81.89,352.37 L82.13,348.23 L82.36,350.87 L82.59,353.19 L82.83,353.48 L83.06,354.81 L83.29,354.05 L83.53,352.23 L83.76,349.28 L84.00,351.48 L84.23,353.24 L84.46,353.90 L84.70,353.62 L84.93,336.22 L85.16,347.73 L85.40,339.06 L85.63,345.96 L85.86,349.60 L86.10,353.74 L86.33,351.85 L86.57,350.14 L86.80,349.14 L87.03,340.14 L87.27,346.47 L87.50,350.57 L87.73,351.01 L87.97,351.14 L88.20,349.37 L88.43,346.47 L88.67,337.50 L88.90,343.65 L89.14,347.28 L89.37,350.52 L89.60,351.38 L89.84,348.68 L90.07,346.03 L90.30,341.03 L90.54,344.58 L90.77,351.00 L91.00,353.51 L91.24,354.04 L91.47,352.03 L91.71,350.69 L91.94,345.07 L92.17,349.33 L92.41,352.52 L92.64,353.64 L92.87,354.10 L93.11,352.28 L93.34,349.74 L93.57,345.52 L93.81,349.17 L94.04,353.03 L94.28,354.20 L94.51,354.24 L94.74,354.10 L94.98,351.51 L95.21,346.41 L95.44,348.24 L95.68,351.24 L95.91,352.50 L96.14,351.76 L96.38,352.10 L96.61,348.33 L96.85,342.40 L97.08,346.78 L97.31,349.91 L97.55,351.85 L97.78,352.61 L98.01,350.17 L98.25,348.06 L98.48,342.94 L98.71,348.35 L98.95,353.13 L99.18,353.52 L99.42,355.11 L99.65,353.43 L99.88,350.02 L100.12,344.20 L100.35,348.48 L100.58,352.51 L100.82,352.80 L101.05,354.15 L101.28,353.68 L101.52,351.75 L101.75,351.12 L101.99,354.26 L102.22,354.95 L102.45,355.70 L102.69,357.39 L102.92,357.31 L103.15,356.06 L103.39,354.64 L103.62,355.90 L103.85,357.02 L104.09,357.70 L104.32,357.57 L104.56,357.38 L104.79,356.86 L105.02,354.14 L105.26,356.28 L105.49,357.82 L105.72,358.02 L105.96,358.62 L106.19,357.99 L106.42,357.49 L106.66,355.75 L106.89,357.12 L107.13,358.53 L107.36,359.03 L107.59,359.32 L107.83,358.69 L108.06,357.99 L108.29,355.59 L108.53,357.01 L108.76,358.48 L108.99,358.76 L109.23,358.38 L109.46,357.88 L109.70,357.24 L109.93,356.16 L110.16,355.95 L110.40,357.16 L110.63,357.59 L110.86,358.20 L111.10,357.33 L111.33,355.87 L111.56,352.57 L111.80,354.60 L112.03,355.78 L112.27,356.99 L112.50,356.87 L112.73,356.61 L112.97,354.94 L113.20,351.13 L113.43,352.16 L113.67,354.57 L113.90,355.17 L114.13,356.17 L114.37,353.99 L114.60,352.46 L114.84,345.03 L115.07,350.63 L115.30,352.48 L115.54,354.63 L115.77,354.71 L116.00,354.74 L116.24,352.66 L116.47,350.46 L116.70,352.87 L116.94,354.06 L117.17,354.65 L117.41,354.38 L117.64,339.86 L117.87,352.17 L118.11,341.62 L118.34,349.86 L118.57,352.35 L118.81,354.33 L119.04,355.21 L119.27,354.65 L119.51,349.20 L119.74,349.01 L119.98,350.04 L120.21,353.47 L120.44,351.96 L120.68,354.59 L120.91,352.83 L121.14,350.39 L121.38,345.39 L121.61,345.53 L121.84,350.15 L122.08,354.03 L122.31,353.20 L122.55,350.73 L122.78,347.12 L123.01,343.93 L123.25,349.23 L123.48,350.30 L123.71,350.40 L123.95,352.75 L124.18,351.64 L124.41,348.55 L124.65,340.68 L124.88,343.40 L125.12,351.76 L125.35,353.40 L125.58,302.49 L125.82,350.34 L126.05,346.98 L126.28,342.13 L126.52,347.30 L126.75,348.83 L126.98,349.38 L127.22,350.77 L127.45,348.75 L127.69,346.08 L127.92,339.53 L128.15,341.63 L128.39,346.03 L128.62,349.31 L128.85,349.22 L129.09,347.26 L129.32,343.28 L129.55,336.84 L129.79,342.40 L130.02,345.22 L130.26,350.91 L130.49,348.09 L130.72,349.44 L130.96,327.94 L131.19,340.47 L131.42,346.41 L131.66,347.14 L131.89,350.73 L132.12,351.60 L132.36,351.63 L132.59,345.74 L132.83,339.88 L133.06,345.92 L133.29,345.33 L133.53,347.87 L133.76,347.63 L133.99,348.33 L134.23,344.08 L134.46,332.73 L134.69,339.84 L134.93,348.58 L135.16,348.62 L135.40,351.91 L135.63,348.94 L135.86,343.73 L136.10,343.07 L136.33,344.86 L136.56,348.26 L136.80,349.02 L137.03,352.29 L137.26,350.59 L137.50,349.05 L137.73,335.32 L137.97,342.50 L138.20,348.61 L138.43,349.33 L138.67,352.52 L138.90,350.26 L139.13,344.85 L139.37,335.10 L139.60,347.94 L139.83,348.54 L140.07,352.02 L140.30,351.99 L140.54,352.83 L140.77,346.16 L141.00,337.23 L141.24,343.37 L141.47,344.80 L141.70,347.46 L141.94,351.32 L142.17,349.70 L142.41,327.94 L142.64,340.44 L142.87,347.00 L143.11,347.70 L143.34,353.49 L143.57,353.02 L143.81,351.56 L144.04,347.19 L144.27,340.98 L144.51,343.62 L144.74,350.39 L144.98,351.71 L145.21,351.55 L145.44,351.35 L145.68,348.59 L145.91,347.52 L146.14,351.17 L146.38,353.07 L146.61,354.17 L146.84,353.39 L147.08,352.92 L147.31,350.76 L147.55,346.45 L147.78,348.76 L148.01,352.48 L148.25,352.96 L148.48,352.83 L148.71,353.63 L148.95,348.85 L149.18,348.33 L149.41,352.10 L149.65,352.67 L149.88,354.82 L150.12,354.77 L150.35,354.86 L150.58,353.55 L150.82,340.40 L151.05,346.69 L151.28,351.17 L151.52,352.40 L151.75,353.88 L151.98,351.04 L152.22,350.03 L152.45,345.51 L152.69,345.52 L152.92,351.50 L153.15,351.39 L153.39,352.96 L153.62,350.69 L153.85,347.98 L154.09,338.87 L154.32,348.27 L154.55,350.30 L154.79,354.08 L155.02,353.06 L155.26,352.87 L155.49,349.87 L155.72,342.38 L155.96,347.97 L156.19,352.36 L156.42,354.86 L156.66,353.16 L156.89,354.38 L157.12,352.12 L157.36,341.68 L157.59,346.22 L157.83,351.83 L158.06,355.29 L158.29,355.28 L158.53,354.35 L158.76,351.90 L158.99,349.00 L159.23,351.50 L159.46,353.06 L159.69,355.24 L159.93,355.23 L160.16,352.62 L160.40,350.98 L160.63,342.78 L160.86,347.99 L161.10,351.87 L161.33,350.27 L161.56,351.78 L161.80,352.02 L162.03,348.55 L162.26,346.37 L162.50,350.48 L162.73,351.66 L162.97,353.21 L163.20,353.83 L163.43,351.69 L163.67,349.02 L163.90,338.33 L164.13,343.49 L164.37,351.78 L164.60,353.12 L164.83,354.14 L165.07,353.89 L165.30,349.23 L165.54,346.55 L165.77,353.14 L166.00,351.92 L166.24,355.05 L166.47,355.04 L166.70,355.04 L166.94,352.10 L167.17,340.69 L167.40,348.71 L167.64,352.36 L167.87,354.03 L168.11,354.59 L168.34,353.22 L168.57,348.79 L168.81,343.32 L169.04,346.54 L169.27,349.06 L169.51,353.65 L169.74,354.52 L169.97,352.10 L170.21,349.91 L170.44,345.94 L170.68,347.40 L170.91,352.26 L171.14,353.45 L171.38,354.50 L171.61,351.29 L171.84,350.73 L172.08,342.42 L172.31,347.17 L172.54,352.12 L172.78,354.84 L173.01,354.31 L173.25,352.28 L173.48,347.64 L173.71,345.33 L173.95,350.69 L174.18,352.48 L174.41,353.08 L174.65,353.03 L174.88,353.06 L175.11,350.54 L175.35,340.63 L175.58,345.05 L175.82,351.34 L176.05,353.56 L176.28,352.05 L176.52,352.90 L176.75,347.32 L176.98,342.43 L177.22,348.49 L177.45,350.72 L177.68,353.05 L177.92,354.37 L178.15,354.10 L178.39,351.35 L178.62,347.35 L178.85,349.31 L179.09,352.74 L179.32,354.61 L179.55,353.84 L179.79,353.74 L180.02,352.38 L180.25,346.36 L180.49,351.99 L180.72,351.05 L180.96,354.28 L181.19,355.19 L181.42,354.02 L181.66,351.95 L181.89,343.90 L182.12,349.14 L182.36,350.46 L182.59,351.57 L182.82,355.23 L183.06,228.63 L183.29,347.42 L183.53,344.38 L183.76,351.58 L183.99,352.91 L184.23,353.53 L184.46,354.49 L184.69,353.99 L184.93,353.96 L185.16,349.17 L185.39,353.17 L185.63,353.51 L185.86,355.39 L186.10,355.87 L186.33,355.85 L186.56,355.38 L186.80,351.59 L187.03,354.14 L187.26,355.80 L187.50,356.01 L187.73,356.94 L187.96,356.64 L188.20,355.56 L188.43,354.85 L188.67,355.80 L188.90,356.37 L189.13,357.00 L189.37,357.26 L189.60,357.43 L189.83,356.61 L190.07,354.67 L190.30,356.17 L190.53,357.41 L190.77,357.47 L191.00,357.76 L191.24,357.02 L191.47,355.86 L191.70,354.73 L191.94,355.93 L192.17,355.88 L192.40,356.33 L192.64,356.09 L192.87,355.52 L193.10,354.07 L193.34,351.64 L193.57,353.91 L193.81,355.16 L194.04,356.06 L194.27,356.30 L194.51,355.39 L194.74,353.53 L194.97,353.10 L195.21,353.44 L195.44,354.20 L195.67,354.95 L195.91,354.40 L196.14,354.43 L196.38,353.23 L196.61,349.54 L196.84,350.84 L197.08,353.14 L197.31,353.05 L197.54,353.30 L197.78,353.03 L198.01,350.36 L198.24,348.66 L198.48,350.27 L198.71,352.42 L198.95,353.10 L199.18,353.36 L199.41,352.32 L199.65,350.22 L199.88,347.95 L200.11,351.00 L200.35,351.55 L200.58,352.62 L200.81,352.72 L201.05,352.55 L201.28,350.73 L201.52,346.88 L201.75,347.05 L201.98,348.30 L202.22,349.04 L202.45,349.56 L202.68,349.26 L202.92,347.39 L203.15,343.92 L203.39,345.75 L203.62,347.67 L203.85,348.75 L204.09,349.30 L204.32,349.20 L204.55,345.32 L204.79,341.89 L205.02,345.20 L205.25,345.56 L205.49,346.87 L205.72,348.08 L205.96,346.66 L206.19,344.30 L206.42,336.71 L206.66,333.46 L206.89,345.32 L207.12,346.58 L207.36,348.55 L207.59,343.73 L207.82,342.85 L208.06,337.71 L208.29,344.47 L208.53,344.90 L208.76,348.17 L208.99,347.98 L209.23,347.47 L209.46,344.13 L209.69,334.40 L209.93,340.98 L210.16,343.98 L210.39,347.63 L210.63,348.49 L210.86,345.35 L211.10,339.98 L211.33,337.73 L211.56,338.12 L211.80,343.30 L212.03,345.60 L212.26,344.99 L212.50,345.72 L212.73,321.67 L212.96,332.18 L213.20,340.64 L213.43,346.04 L213.67,344.66 L213.90,349.39 L214.13,348.68 L214.37,343.23 L214.60,337.00 L214.83,342.00 L215.07,346.27 L215.30,346.69 L215.53,348.41 L215.77,348.11 L216.00,343.86 L216.24,340.25 L216.47,343.58 L216.70,346.50 L216.94,350.02 L217.17,349.56 L217.40,348.19 L217.64,344.45 L217.87,337.10 L218.10,343.33 L218.34,348.70 L218.57,349.39 L218.81,349.33 L219.04,347.73 L219.27,344.80 L219.51,337.24 L219.74,343.11 L219.97,348.27 L220.21,346.01 L220.44,350.01 L220.67,350.30 L220.91,346.05 L221.14,335.41 L221.38,343.18 L221.61,347.02 L221.84,349.45 L222.08,350.94 L222.31,351.14 L222.54,345.99 L222.78,341.74 L223.01,345.47 L223.24,347.30 L223.48,349.55 L223.71,349.50 L223.95,348.73 L224.18,344.04 L224.41,342.25 L224.65,344.31 L224.88,348.13 L225.11,348.70 L225.35,348.82 L225.58,348.49 L225.81,345.17 L226.05,341.12 L226.28,344.12 L226.52,346.49 L226.75,349.47 L226.98,352.19 L227.22,348.93 L227.45,347.16 L227.68,346.06 L227.92,349.07 L228.15,352.18 L228.38,352.53 L228.62,350.43 L228.85,352.27 L229.09,350.13 L229.32,344.13 L229.55,346.36 L229.79,349.32 L230.02,352.69 L230.25,352.87 L230.49,352.30 L230.72,349.24 L230.95,341.30 L231.19,348.01 L231.42,349.32 L231.66,353.33 L231.89,352.47 L232.12,351.05 L232.36,348.83 L232.59,345.52 L232.82,349.16 L233.06,350.15 L233.29,351.49 L233.52,353.79 L233.76,353.23 L233.99,349.84 L234.23,344.80 L234.46,349.15 L234.69,349.56 L234.93,350.85 L235.16,352.20 L235.39,351.12 L235.63,348.03 L235.86,347.15 L236.09,346.28 L236.33,352.51 L236.56,354.37 L236.80,352.34 L237.03,351.53 L237.26,349.14 L237.50,342.31 L237.73,348.82 L237.96,351.03 L238.20,351.36 L238.43,354.36 L238.66,278.53 L238.90,349.28 L239.13,344.50 L239.37,350.49 L239.60,351.60 L239.83,354.22 L240.07,355.63 L240.30,355.35 L240.53,351.44 L240.77,345.42 L241.00,350.64 L241.23,351.18 L241.47,353.33 L241.70,353.18 L241.94,353.85 L242.17,351.54 L242.40,343.64 L242.64,348.05 L242.87,351.07 L243.10,355.63 L243.34,355.63 L243.57,354.40 L243.80,351.37 L244.04,347.14 L244.27,351.47 L244.51,353.23 L244.74,353.03 L244.97,352.20 L245.21,349.04 L245.44,346.19 L245.67,336.49 L245.91,343.90 L246.14,343.44 L246.37,345.27 L246.61,344.21 L246.84,342.15 L247.08,335.98 L247.31,333.05 L247.54,337.10 L247.78,339.78 L248.01,341.36 L248.24,341.60 L248.48,341.23 L248.71,339.26 L248.94,333.50 L249.18,339.56 L249.41,343.17 L249.65,343.84 L249.88,345.39 L250.11,344.00 L250.35,340.51 L250.58,339.50 L250.81,341.97 L251.05,345.33 L251.28,346.78 L251.51,347.61 L251.75,346.86 L251.98,344.65 L252.22,343.80 L252.45,345.87 L252.68,347.15 L252.92,347.62 L253.15,347.73 L253.38,347.30 L253.62,346.33 L253.85,339.86 L254.08,343.50 L254.32,347.51 L254.55,347.02 L254.79,346.62 L255.02,346.54 L255.25,344.68 L255.49,341.40 L255.72,341.97 L255.95,345.02 L256.19,347.02 L256.42,346.67 L256.65,346.91 L256.89,344.31 L257.12,337.02 L257.36,343.03 L257.59,346.23 L257.82,333.46 L258.06,347.14 L258.29,345.17 L258.52,343.49 L258.76,342.29 L258.99,345.53 L259.23,346.18 L259.46,348.89 L259.69,347.87 L259.93,348.28 L260.16,347.72 L260.39,337.57 L260.63,343.07 L260.86,347.40 L261.09,348.44 L261.33,347.22 L261.56,345.84 L261.80,345.43 L262.03,346.37 L262.26,346.98 L262.50,348.33 L262.73,350.83 L262.96,350.90 L263.20,350.91 L263.43,348.56 L263.66,341.46 L263.90,343.87 L264.13,349.46 L264.37,349.98 L264.60,349.31 L264.83,348.62 L265.07,344.13 L265.30,337.35 L265.53,341.96 L265.77,346.03 L266.00,347.18 L266.23,348.82 L266.47,347.57 L266.70,343.78 L266.94,337.94 L267.17,344.13 L267.40,348.93 L267.64,350.02 L267.87,350.98 L268.10,329.82 L268.34,347.43 L268.57,342.81 L268.80,345.31 L269.04,349.04 L269.27,350.18 L269.51,349.40 L269.74,347.87 L269.97,347.27 L270.21,338.06 L270.44,346.07 L270.67,348.27 L270.91,349.40 L271.14,349.55 L271.37,349.74 L271.61,346.89 L271.84,307.00 L272.08,344.13 L272.31,348.52 L272.54,351.56 L272.78,353.31 L273.01,352.39 L273.24,348.28 L273.48,341.87 L273.71,349.36 L273.94,351.99 L274.18,352.61 L274.41,353.82 L274.65,351.23 L274.88,349.53 L275.11,342.24 L275.35,347.33 L275.58,351.15 L275.81,351.74 L276.05,353.28 L276.28,353.49 L276.51,349.99 L276.75,347.21 L276.98,350.22 L277.22,352.55 L277.45,352.50 L277.68,351.27 L277.92,352.34 L278.15,351.52 L278.38,347.04 L278.62,349.16 L278.85,353.36 L279.08,352.02 L279.32,353.95 L279.55,353.25 L279.79,348.22 L280.02,344.47 L280.25,347.73 L280.49,347.92 L280.72,350.44 L280.95,352.84 L281.19,351.91 L281.42,348.25 L281.65,344.26 L281.89,350.13 L282.12,353.08 L282.36,352.90 L282.59,354.04 L282.82,351.80 L283.06,350.32 L283.29,345.51 L283.52,348.01 L283.76,350.51 L283.99,349.85 L284.22,351.61 L284.46,347.84 L284.69,344.47 L284.93,337.59 L285.16,342.76 L285.39,347.23 L285.63,346.55 L285.86,347.95 L286.09,347.27 L286.33,344.89 L286.56,340.07 L286.79,344.88 L287.03,347.23 L287.26,347.81 L287.50,350.50 L287.73,348.81 L287.96,345.65 L288.20,336.00 L288.43,339.34 L288.66,343.29 L288.90,323.43 L289.13,349.02 L289.36,346.80 L289.60,338.63 L289.83,337.61 L290.07,338.66 L290.30,345.58 L290.53,345.97 L290.77,346.74 L291.00,345.73 L291.23,343.69 L291.47,334.30 L291.70,338.86 L291.93,346.98 L292.17,347.19 L292.40,348.89 L292.64,347.68 L292.87,342.04 L293.10,337.68 L293.34,344.77 L293.57,346.57 L293.80,347.13 L294.04,271.64 L294.27,346.10 L294.50,339.61 L294.74,329.80 L294.97,338.97 L295.21,342.16 L295.44,346.27 L295.67,349.07 L295.91,345.58 L296.14,343.98 L296.37,330.01 L296.61,336.93 L296.84,343.22 L297.07,349.13 L297.31,343.34 L297.54,341.82 L297.78,336.57 L298.01,328.86 L298.24,321.67 L298.48,344.77 L298.71,343.98 L298.94,345.67 L299.18,345.38 L299.41,340.71 L299.64,329.43 L299.88,337.75 L300.11,340.61 L300.35,342.57 L300.58,343.44 L300.81,341.20 L301.05,334.11 L301.28,323.05 L301.51,329.75 L301.75,338.75 L301.98,343.39 L302.21,344.57 L302.45,346.22 L302.68,337.82 L302.92,331.42 L303.15,338.52 L303.38,343.44 L303.62,349.13 L303.85,349.13 L304.08,348.45 L304.32,342.85 L304.55,339.57 L304.78,347.37 L305.02,347.76 L305.25,349.13 L305.49,349.13 L305.72,344.85 L305.95,339.82 L306.19,332.82 L306.42,338.91 L306.65,342.90 L306.89,345.25 L307.12,347.12 L307.35,349.13 L307.59,341.25 L307.82,333.53 L308.06,338.98 L308.29,343.71 L308.52,344.88 L308.76,343.14 L308.99,344.00 L309.22,342.78 L309.46,333.38 L309.69,337.23 L309.92,344.97 L310.16,295.84 L310.39,345.48 L310.63,345.18 L310.86,343.72 L311.09,332.86 L311.33,265.87 L311.56,347.22 L311.79,350.01 L312.03,350.08 L312.26,350.15 L312.49,348.11 L312.73,342.04 L312.96,347.66 L313.20,350.29 L313.43,350.29 L313.66,350.29 L313.90,348.94 L314.13,344.60 L314.36,333.66 L314.60,341.06 L314.83,344.49 L315.06,345.91 L315.30,347.29 L315.53,344.47 L315.77,342.74 L316.00,336.56 L316.23,338.09 L316.47,342.56 L316.70,345.46 L316.93,348.74 L317.17,349.31 L317.40,345.13 L317.63,338.32 L317.87,345.17 L318.10,348.31 L318.34,347.45 L318.57,350.29 L318.80,345.37 L319.04,343.38 L319.27,337.66 L319.50,342.82 L319.74,345.43 L319.97,346.56 L320.21,350.29 L320.44,347.98 L320.67,345.60 L320.91,336.69 L321.14,339.06 L321.37,347.04 L321.61,348.64 L321.84,347.15 L322.07,349.27 L322.31,343.25 L322.54,335.63 L322.78,344.64 L323.01,344.61 L323.24,348.70 L323.48,349.36 L323.71,345.52 L323.94,342.91 L324.18,333.66 L324.41,342.06 L324.64,346.16 L324.88,346.57 L325.11,247.69 L325.35,347.89 L325.58,341.90 L325.81,334.18 L326.05,338.45 L326.28,344.47 L326.51,346.14 L326.75,347.35 L326.98,343.72 L327.21,342.81 L327.45,338.73 L327.68,340.04 L327.92,345.98 L328.15,348.42 L328.38,347.30 L328.62,344.69 L328.85,342.57 L329.08,332.26 L329.32,339.16 L329.55,343.66 L329.78,344.43 L330.02,345.39 L330.25,345.07 L330.49,341.35 L330.72,332.81 L330.95,338.29 L331.19,342.08 L331.42,340.53 L331.65,342.09 L331.89,339.86 L332.12,334.11 L332.35,318.91 L332.59,331.77 L332.82,338.08 L333.06,341.47 L333.29,341.25 L333.52,341.01 L333.76,335.85 L333.99,326.20 L334.22,331.18 L334.46,314.27 L334.69,338.45 L334.92,339.08 L335.16,336.81 L335.39,332.31 L335.63,324.58 L335.86,332.58 L336.09,337.53 L336.33,339.32 L336.56,342.28 L336.79,343.37 L337.03,342.34 L337.26,337.02 L337.49,344.33 L337.73,346.68 L337.96,349.57 L338.20,351.58 L338.43,351.50 L338.66,349.02 L338.90,347.64 L339.13,351.02 L339.36,351.19 L339.60,351.41 L339.83,350.89 L340.06,348.09 L340.30,347.31 L340.53,337.78 L340.77,342.15 L341.00,343.97 L341.23,345.88 L341.47,347.66 L341.70,346.52 L341.93,338.90 L342.17,337.57 L342.40,341.87 L342.63,343.48 L342.87,342.60 L343.10,343.72 L343.34,343.02 L343.57,327.06 L343.80,336.69 L344.04,339.84 L344.27,346.35 L344.50,345.31 L344.74,345.95 L344.97,343.94 L345.20,343.09 L345.44,332.70 L345.67,340.81 L345.91,342.61 L346.14,345.87 L346.37,344.67 L346.61,343.23 L346.84,338.40 L347.07,327.79 L347.31,321.67 L347.54,341.85 L347.77,341.74 L348.01,341.89 L348.24,342.65 L348.48,337.28 L348.71,336.38 L348.94,340.19 L349.18,341.13 L349.41,341.76 L349.64,342.42 L349.88,342.50 L350.11,340.14 L350.34,327.93 L350.58,335.37 L350.81,341.87 L351.05,342.44 L351.28,343.73 L351.51,345.19 L351.75,337.08 L351.98,334.19 L352.21,337.97 L352.45,343.73 L352.68,344.84 L352.91,347.55 L353.15,344.22 L353.38,344.20 L353.62,332.58 L353.85,341.54 L354.08,345.31 L354.32,348.03 L354.55,348.20 L354.78,347.20 L355.02,340.85 L355.25,339.10 L355.48,345.36 L355.72,349.77 L355.95,348.89 L356.19,351.77 L356.42,350.07 L356.65,349.15 L356.89,340.76 L357.12,347.25 L357.35,352.03 L357.59,351.99 L357.82,353.18 L358.05,351.61 L358.29,346.69 L358.52,342.21 L358.76,347.92 L358.99,350.12 L359.22,351.12 L359.46,352.83 L359.69,352.35 L359.92,352.33 L360.16,351.09 L360.39,352.65 L360.62,354.40 L360.86,355.16 L361.09,355.27 L361.33,355.01 L361.56,354.49 L361.79,350.65 L362.03,352.92 L362.26,354.72 L362.49,355.61 L362.73,354.53 L362.96,353.53 L363.19,352.89 L363.43,350.42 L363.66,330.70 L363.90,355.28 L364.13,355.39 L364.36,355.87 L364.60,355.10 L364.83,354.45 L365.06,350.92 L365.30,353.48 L365.53,354.33 L365.76,354.59 L366.00,355.24 L366.23,354.40 L366.47,353.56 L366.70,347.58 L366.93,317.03 L367.17,348.28 L367.40,350.28 L367.63,350.62 L367.87,349.66 L368.10,346.50 L368.33,337.99 L368.57,341.94 L368.80,348.70 L369.04,350.55 L369.27,352.18 L369.50,348.23 L369.74,346.36 L369.97,340.15 L370.20,342.56 L370.44,347.72 L370.67,350.02 L370.90,348.52 L371.14,348.64 L371.37,344.07 L371.61,335.60 L371.84,341.75 L372.07,349.17 L372.31,352.09 L372.54,350.04 L372.77,349.69 L373.01,345.60 L373.24,337.46 L373.47,338.84 L373.71,342.52 L373.94,346.21 L374.18,348.41 L374.41,347.73 L374.64,346.54 L374.88,342.00 L375.11,345.04 L375.34,352.18 L375.58,350.70 L375.81,351.40 L376.04,347.71 L376.28,349.26 L376.51,336.97 L376.75,345.20 L376.98,347.34 L377.21,351.04 L377.45,351.41 L377.68,350.19 L377.91,346.21 L378.15,338.57 L378.38,346.33 L378.62,347.71 L378.85,349.91 L379.08,350.48 L379.32,314.65 L379.55,346.48 L379.78,336.96 L380.02,343.31 L380.25,350.01 L380.48,349.68 L380.72,348.01 L380.95,343.16 L381.19,332.33 L381.42,328.92 L381.65,331.11 L381.89,342.34 L382.12,345.30 L382.35,345.33 L382.59,343.83 L382.82,337.39 L383.05,328.08 L383.29,334.58 L383.52,341.78 L383.76,344.06 L383.99,344.28 L384.22,341.23 L384.46,334.69 L384.69,325.39 L384.92,329.62 L385.16,340.75 L385.39,339.87 L385.62,342.65 L385.86,342.83 L386.09,337.78 L386.33,326.69 L386.56,334.11 L386.79,339.35 L387.03,343.53 L387.26,344.20 L387.49,340.64 L387.73,331.08 L387.96,323.32 L388.19,329.72 L388.43,337.28 L388.66,339.43 L388.90,337.34 L389.13,337.05 L389.36,332.74 L389.60,321.45 L389.83,331.05 L390.06,339.39 L390.30,341.80 L390.53,346.25 L390.76,342.28 L391.00,335.81 L391.23,326.57 L391.47,334.27 L391.70,341.88 L391.93,339.60 L392.17,342.08 L392.40,340.42 L392.63,336.97 L392.87,336.42 L393.10,337.90 L393.33,341.47 L393.57,345.02 L393.80,342.10 L394.04,341.25 L394.27,340.27 L394.50,336.30 L394.74,336.91 L394.97,339.32 L395.20,338.17 L395.44,347.36 L395.67,347.41 L395.90,341.85 L396.14,332.15 L396.37,340.24 L396.61,344.56 L396.84,347.68 L397.07,347.73 L397.31,346.11 L397.54,338.32 L397.77,330.05 L398.01,337.56 L398.24,341.84 L398.47,344.15 L398.71,347.19 L398.94,343.65 L399.18,343.70 L399.41,334.54 L399.64,342.57 L399.88,346.91 L400.11,348.57 L400.34,348.10 L400.58,346.85 L400.81,343.54 L401.04,339.63 L401.28,342.66 L401.51,344.45 L401.75,347.03 L401.98,346.81 L402.21,348.40 L402.45,345.61 L402.68,341.53 L402.91,344.66 L403.15,346.81 L403.38,348.76 L403.61,349.81 L403.85,347.60 L404.08,344.68 L404.32,336.97 L404.55,343.54 L404.78,345.39 L405.02,347.39 L405.25,349.02 L405.48,348.84 L405.72,346.00 L405.95,337.45 L406.18,345.03 L406.42,347.53 L406.65,350.01 L406.89,350.01 L407.12,348.77 L407.35,343.97 L407.59,338.87 L407.82,342.88 L408.05,347.83 L408.29,347.28 L408.52,347.87 L408.75,347.54 L408.99,345.05 L409.22,340.10 L409.46,343.71 L409.69,345.86 L409.92,348.10 L410.16,346.98 L410.39,347.76 L410.62,343.51 L410.86,341.60 L411.09,343.00 L411.32,349.82 L411.56,349.82 L411.79,349.74 L412.03,347.70 L412.26,343.57 L412.49,312.14 L412.73,346.95 L412.96,345.54 L413.19,348.12 L413.43,347.85 L413.66,346.03 L413.89,345.88 L414.13,335.13 L414.36,344.16 L414.60,344.92 L414.83,348.06 L415.06,347.90 L415.30,347.22 L415.53,343.04 L415.76,336.56 L416.00,341.99 L416.23,344.79 L416.46,344.94 L416.70,344.35 L416.93,344.70 L417.17,340.93 L417.40,336.18 L417.63,339.82 L417.87,342.88 L418.10,342.95 L418.33,343.12 L418.57,340.29 L418.80,339.34 L419.03,329.82 L419.27,339.60 L419.50,340.10 L419.74,343.48 L419.97,343.74 L420.20,343.17 L420.44,343.43 L420.67,339.70 L420.90,342.53 L421.14,344.98 L421.37,345.04 L421.60,346.96 L421.84,346.39 L422.07,346.27 L422.31,344.65 L422.54,346.78 L422.77,349.03 L423.01,350.04 L423.24,350.60 L423.47,350.98 L423.71,350.99 L423.94,349.29 L424.17,351.21 L424.41,351.73 L424.64,352.87 L424.88,353.00 L425.11,352.76 L425.34,352.44 L425.58,351.69 L425.81,353.31 L426.04,353.69 L426.28,354.62 L426.51,354.50 L426.74,354.29 L426.98,353.66 L427.21,351.86 L427.45,353.21 L427.68,353.00 L427.91,353.06 L428.15,352.89 L428.38,352.29 L428.61,351.53 L428.85,350.21 L429.08,351.16 L429.31,351.38 L429.55,351.19 L429.78,349.93 L430.02,349.16 L430.25,345.42 L430.48,325.31 L430.72,339.04 L430.95,343.23 L431.18,345.74 L431.42,346.22 L431.65,345.15 L431.88,341.91 L432.12,341.78 L432.35,344.40 L432.59,346.62 L432.82,348.11 L433.05,347.76 L433.29,348.25 L433.52,346.20 L433.75,336.62 L433.99,341.08 L434.22,344.26 L434.45,344.37 L434.69,346.67 L434.92,345.01 L435.16,340.39 L435.39,337.02 L435.62,342.74 L435.86,344.33 L436.09,346.03 L436.32,347.69 L436.56,347.19 L436.79,346.76 L437.03,343.77 L437.26,345.60 L437.49,347.99 L437.73,347.97 L437.96,348.48 L438.19,347.84 L438.43,347.02 L438.66,340.09 L438.89,343.08 L439.13,347.96 L439.36,349.59 L439.60,349.50 L439.83,348.62 L440.06,345.61 L440.30,342.83 L440.53,345.51 L440.76,347.42 L441.00,348.50 L441.23,349.59 L441.46,348.55 L441.70,346.96 L441.93,346.48 L442.17,349.67 L442.40,349.39 L442.63,350.53 L442.87,350.75 L443.10,350.87 L443.33,349.60 L443.57,343.30 L443.80,346.13 L444.03,350.24 L444.27,351.71 L444.50,352.41 L444.74,351.34 L444.97,349.59 L445.20,348.81 L445.44,351.05 L445.67,351.52 L445.90,351.94 L446.14,353.38 L446.37,352.33 L446.60,351.86 L446.84,350.11 L447.07,351.14 L447.31,353.29 L447.54,354.21 L447.77,354.35 L448.01,354.08 L448.24,352.30 L448.47,349.44 L448.71,352.80 L448.94,353.98 L449.17,354.62 L449.41,354.84 L449.64,354.29 L449.88,351.81 L450.11,347.70 L450.34,350.34 L450.58,352.43 L450.81,353.50 L451.04,353.19 L451.28,351.61 L451.51,350.38 L451.74,347.25 L451.98,347.95 L452.21,350.20 L452.45,351.36 L452.68,351.83 L452.91,349.37 L453.15,349.80 L453.38,341.82 L453.61,345.56 L453.85,347.63 L454.08,348.70 L454.31,348.68 L454.55,347.04 L454.78,345.71 L455.02,342.07 L455.25,342.67 L455.48,346.39 L455.72,345.85 L455.95,346.61 L456.18,346.13 L456.42,343.38 L456.65,327.94 L456.88,342.75 L457.12,344.90 L457.35,347.02 L457.59,347.19 L457.82,346.35 L458.05,343.43 L458.29,338.61 L458.52,340.91 L458.75,345.20 L458.99,344.28 L459.22,344.90 L459.45,343.94 L459.69,341.63 L459.92,336.65 L460.16,340.74 L460.39,342.59 L460.62,344.41 L460.86,344.40 L461.09,343.59 L461.32,340.72 L461.56,320.67 L461.79,340.46 L462.02,344.40 L462.26,344.37 L462.49,344.30 L462.73,341.81 L462.96,340.86 L463.19,332.06 L463.43,337.92 L463.66,322.55 L463.89,342.24 L464.13,341.59 L464.36,342.07 L464.59,337.69 L464.83,328.41 L465.06,335.87 L465.30,341.86 L465.53,340.80 L465.76,343.68 L466.00,341.43 L466.23,338.14 L466.46,333.78 L466.70,337.67 L466.93,340.53 L467.16,339.55 L467.40,344.21 L467.63,340.16 L467.87,339.38 L468.10,323.43 L468.33,340.45 L468.57,342.93 L468.80,343.04 L469.03,344.27 L469.27,343.88 L469.50,340.82 L469.73,335.95 L469.97,341.10 L470.20,343.18 L470.44,344.32 L470.67,343.58 L470.90,341.56 L471.14,338.78 L471.37,332.51 L471.60,336.52 L471.84,339.52 L472.07,341.83 L472.30,344.52 L472.54,344.70 L472.77,338.71 L473.01,330.28 L473.24,335.60 L473.47,340.69 L473.71,342.12 L473.94,343.39 L474.17,343.20 L474.41,340.44 L474.64,330.26 L474.87,335.71 L475.11,342.72 L475.34,345.20 L475.58,344.21 L475.81,342.10 L476.04,337.38 L476.28,333.51 L476.51,340.26 L476.74,340.36 L476.98,342.96 L477.21,343.04 L477.44,343.09 L477.68,341.29 L477.91,324.31 L478.15,342.89 L478.38,342.35 L478.61,343.59 L478.85,344.83 L479.08,343.63 L479.31,340.54 L479.55,338.16 L479.78,342.53 L480.01,341.14 L480.25,344.40 L480.48,345.64 L480.72,343.52 L480.95,340.64 L481.18,332.49 L481.42,339.38 L481.65,342.52 L481.88,345.42 L482.12,346.11 L482.35,345.44 L482.58,329.82 L482.82,334.53 L483.05,339.24 L483.29,343.17 L483.52,344.24 L483.75,346.81 L483.99,345.02 L484.22,343.50 L484.45,340.39 L484.69,347.00 L484.92,350.83 L485.15,352.07 L485.39,352.24 L485.62,352.03 L485.86,348.00 L486.09,339.57 L486.32,345.88 L486.56,351.03 L486.79,350.91 L487.02,352.62 L487.26,351.50 L487.49,349.34 L487.72,341.74 L487.96,348.10 L488.19,348.56 L488.43,349.52 L488.66,351.16 L488.89,350.41 L489.13,347.34 L489.36,340.65 L489.59,341.88 L489.83,349.24 L490.06,352.78 L490.29,351.83 L490.53,350.57 L490.76,348.42 L491.00,341.09 L491.23,344.22 L491.46,348.97 L491.70,349.71 L491.93,352.78 L492.16,349.86 L492.40,346.50 L492.63,337.30 L492.86,347.73 L493.10,350.78 L493.33,353.38 L493.57,353.18 L493.80,351.60 L494.03,345.62 L494.27,342.29 L494.50,345.55 L494.73,347.32 L494.97,348.32 L495.20,349.27 L495.44,348.30 L495.67,343.51 L495.90,337.63 L496.14,344.96 L496.37,346.37 L496.60,344.36 L496.84,345.99 L497.07,345.68 L497.30,343.98 L497.54,337.96 L497.77,339.57 L498.01,347.35 L498.24,348.85 L498.47,346.99 L498.71,344.77 L498.94,342.21 L499.17,338.92 L499.41,331.70 L499.64,342.34 L499.87,343.76 L500.11,346.75 L500.34,345.67 L500.58,341.55 L500.81,332.60 L501.04,336.75 L501.28,343.27 L501.51,343.44 L501.74,343.62 L501.98,344.09 L502.21,337.09 L502.44,333.92 L502.68,337.70 L502.91,342.31 L503.15,341.88 L503.38,341.53 L503.61,342.39 L503.85,337.42 L504.08,330.62 L504.31,335.17 L504.55,337.15 L504.78,338.76 L505.01,286.56 L505.25,337.58 L505.48,335.81 L505.72,260.98 L505.95,335.43 L506.18,336.25 L506.42,338.19 L506.65,337.77 L506.88,337.77 L507.12,334.11 L507.35,330.01 L507.58,334.24 L507.82,337.09 L508.05,335.98 L508.29,337.55 L508.52,338.90 L508.75,336.47 L508.99,336.79 L509.22,338.66 L509.45,340.27 L509.69,341.48 L509.92,342.68 L510.15,339.89 L510.39,339.38 L510.62,336.48 L510.86,340.42 L511.09,342.82 L511.32,343.60 L511.56,344.91 L511.79,344.54 L512.02,341.32 L512.26,333.79 L512.49,338.74 L512.72,342.72 L512.96,346.08 L513.19,270.88 L513.43,347.73 L513.66,346.83 L513.89,342.71 L514.13,346.74 L514.36,351.79 L514.59,353.49 L514.83,351.29" stroke="#ff7f0e" stroke-opacity="0.9" stroke-width="0.72" fill="none" stroke-linejoin="round"/>
<rect class="spine" x="39.6" y="222.7" width="497.80" height="145.60"/>
<text class="tk" x="37.1" y="364.75" text-anchor="end">0</text>
<text class="tk" x="37.1" y="339.67" text-anchor="end">200</text>
<text class="tk" x="37.1" y="314.59" text-anchor="end">400</text>
<text class="tk" x="37.1" y="289.51" text-anchor="end">600</text>
<text class="tk" x="37.1" y="264.43" text-anchor="end">800</text>
<text class="tk" x="37.1" y="239.35" text-anchor="end">1000</text>
<text class="tk" x="112.80" y="376.5" text-anchor="middle">2015</text>
<text class="tk" x="198.08" y="376.5" text-anchor="middle">2016</text>
<text class="tk" x="283.59" y="376.5" text-anchor="middle">2017</text>
<text class="tk" x="368.87" y="376.5" text-anchor="middle">2018</text>
<text class="tk" x="454.15" y="376.5" text-anchor="middle">2019</text>
<text x="288.4" y="221.0" text-anchor="middle" font-size="8.89px">Anomaly Detection and Interpolation</text>
<text x="288.4" y="386.9" text-anchor="middle" font-size="10.5px">date</text>
<text transform="translate(16.5,313.4) rotate(-90)" font-size="10.3px">weight<tspan font-size="8.3px">(kg)</tspan></text>
<line x1="505" x2="511.8" y1="226.5" y2="226.5" stroke="#5a9fd4" stroke-width="0.7"/><line x1="505" x2="511.8" y1="231.4" y2="231.4" stroke="#ff9a40" stroke-width="0.7"/><text class="lg" x="514.1" y="227.55">Delete Outlier</text><text class="lg" x="514.1" y="232.45">Interpolation</text>
<rect x="157.2" y="337.2" width="28.8" height="25.2" fill="none" stroke="#2f5f8f" stroke-width="1"/>
<path d="M157.3,362.9 C150,363 143,363.6 137,364.5 C131,365.5 125,367 120.4,369 C116,371 112.8,373 110.3,375.4 C108.5,377 107,378.8 106.2,380.4 C105.4,382 105.3,383.8 105.8,385.5 C106.3,387.8 107.2,390 108.4,391.9 C109.8,393.8 111.6,395.2 113.6,396.2" fill="none" stroke="#4a90d6" stroke-width="1.3" stroke-linecap="round"/>
<path d="M107.7,395.6 L113.8,396.3 L112.2,391.6" fill="none" stroke="#4a90d6" stroke-width="1.4" stroke-linejoin="miter" stroke-linecap="round"/>
<line x1="118.3" x2="226.8" y1="404.00" y2="404.00" stroke="#c4c4c4" stroke-width="0.6"/>
<line x1="118.3" x2="226.8" y1="413.58" y2="413.58" stroke="#c4c4c4" stroke-width="0.6"/>
<line x1="118.3" x2="226.8" y1="423.16" y2="423.16" stroke="#c4c4c4" stroke-width="0.6"/>
<line x1="118.3" x2="226.8" y1="432.74" y2="432.74" stroke="#c4c4c4" stroke-width="0.6"/>
<line x1="118.3" x2="226.8" y1="442.32" y2="442.32" stroke="#c4c4c4" stroke-width="0.6"/>
<line x1="118.3" x2="226.8" y1="451.90" y2="451.90" stroke="#c4c4c4" stroke-width="0.6"/>
<line x1="118.3" x2="226.8" y1="461.48" y2="461.48" stroke="#c4c4c4" stroke-width="0.6"/>
<line x1="118.5" x2="118.5" y1="395.6" y2="471.6" stroke="#f1f1f1" stroke-width="0.6"/>
<line x1="155.6" x2="155.6" y1="395.6" y2="471.6" stroke="#f1f1f1" stroke-width="0.6"/>
<line x1="190.5" x2="190.5" y1="395.6" y2="471.6" stroke="#f1f1f1" stroke-width="0.6"/>
<line x1="226.60000000000002" x2="226.60000000000002" y1="395.6" y2="471.6" stroke="#f1f1f1" stroke-width="0.6"/>
<path d="M135.02,433.20 L135.11,461.32 M159.60,433.95 L159.69,461.32 M184.15,436.55 L185.27,461.32 L186.39,461.32 L187.88,449.96 M222.70,445.87 L222.70,461.32" stroke="#86bae6" stroke-width="0.7" fill="none" stroke-linejoin="round"/>
<path d="M118.35,435.07 L118.42,434.83 L118.52,434.44 L118.63,434.01 L118.77,433.67 L118.92,433.54 L119.10,433.76 L119.30,434.38 L119.54,435.32 L119.80,436.47 L120.06,437.75 L120.33,439.05 L120.59,440.28 L120.84,441.60 L121.09,443.11 L121.34,444.64 L121.59,446.04 L121.84,447.12 L122.08,447.73 L122.31,447.69 L122.54,447.11 L122.76,446.22 L122.98,445.25 L123.19,444.43 L123.38,444.00 L123.56,444.04 L123.72,444.38 L123.87,444.88 L124.01,445.38 L124.16,445.76 L124.31,445.87 L124.47,445.76 L124.62,445.56 L124.78,445.23 L124.93,444.73 L125.09,444.02 L125.24,443.07 L125.40,441.78 L125.55,440.16 L125.71,438.34 L125.86,436.42 L126.02,434.55 L126.17,432.83 L126.33,431.15 L126.48,429.40 L126.64,427.67 L126.79,426.11 L126.95,424.81 L127.10,423.89 L127.26,423.35 L127.41,423.08 L127.57,423.08 L127.73,423.34 L127.88,423.86 L128.04,424.64 L128.19,425.78 L128.35,427.33 L128.50,429.13 L128.66,431.05 L128.81,432.95 L128.97,434.69 L129.12,436.37 L129.28,438.13 L129.43,439.86 L129.59,441.48 L129.74,442.89 L129.90,444.00 L130.05,444.85 L130.19,445.51 L130.34,445.96 L130.49,446.18 L130.65,446.16 L130.83,445.87 L131.02,445.17 L131.23,444.06 L131.45,442.70 L131.67,441.26 L131.90,439.90 L132.13,438.79 L132.37,437.91 L132.62,437.13 L132.87,436.44 L133.12,435.81 L133.37,435.23 L133.62,434.69 L133.87,434.05 L134.13,433.30 L134.38,432.60 L134.63,432.11 L134.87,432.01 L135.11,432.46 L135.34,433.70 L135.57,435.64 L135.80,437.97 L136.02,440.36 L136.22,442.48 L136.42,444.00 L136.58,444.91 L136.72,445.45 L136.85,445.71 L136.98,445.81 L137.14,445.83 L137.35,445.87 L137.60,445.87 L137.90,445.76 L138.22,445.57 L138.55,445.35 L138.89,445.12 L139.21,444.93 L139.53,444.86 L139.85,444.87 L140.17,444.88 L140.49,444.80 L140.79,444.54 L141.07,444.00 L141.32,443.14 L141.56,442.00 L141.78,440.69 L141.99,439.28 L142.19,437.87 L142.37,436.55 L142.55,435.16 L142.71,433.59 L142.85,432.02 L143.00,430.62 L143.14,429.59 L143.31,429.11 L143.48,429.24 L143.66,429.86 L143.84,430.85 L144.03,432.07 L144.22,433.40 L144.42,434.69 L144.63,436.09 L144.84,437.73 L145.06,439.46 L145.28,441.18 L145.51,442.73 L145.73,444.00 L145.94,445.03 L146.15,445.93 L146.37,446.68 L146.58,447.25 L146.80,447.60 L147.03,447.73 L147.27,447.51 L147.51,446.93 L147.76,446.16 L148.02,445.31 L148.27,444.55 L148.52,444.00 L148.77,443.75 L149.02,443.69 L149.28,443.71 L149.53,443.69 L149.77,443.52 L150.01,443.07 L150.24,442.26 L150.47,441.14 L150.70,439.87 L150.91,438.59 L151.12,437.44 L151.31,436.55 L151.49,435.92 L151.65,435.42 L151.80,435.04 L151.95,434.80 L152.09,434.68 L152.24,434.69 L152.40,434.82 L152.55,435.07 L152.71,435.45 L152.86,435.97 L153.02,436.64 L153.18,437.49 L153.33,438.62 L153.49,440.07 L153.64,441.68 L153.80,443.28 L153.95,444.73 L154.11,445.87 L154.26,446.71 L154.40,447.38 L154.55,447.90 L154.70,448.28 L154.86,448.53 L155.04,448.66 L155.23,448.67 L155.44,448.56 L155.65,448.31 L155.88,447.94 L156.11,447.43 L156.34,446.80 L156.58,445.97 L156.82,444.93 L157.07,443.77 L157.33,442.56 L157.58,441.37 L157.83,440.28 L158.09,439.26 L158.35,438.22 L158.61,437.22 L158.87,436.27 L159.10,435.42 L159.32,434.69 L159.50,433.99 L159.66,433.26 L159.80,432.62 L159.93,432.20 L160.08,432.10 L160.25,432.46 L160.45,433.45 L160.67,435.02 L160.90,436.93 L161.13,438.91 L161.35,440.73 L161.55,442.14 L161.73,443.16 L161.88,444.00 L162.02,444.67 L162.16,445.19 L162.31,445.58 L162.49,445.87 L162.68,445.96 L162.90,445.83 L163.13,445.57 L163.36,445.28 L163.58,445.04 L163.79,444.93 L163.98,445.08 L164.17,445.42 L164.35,445.81 L164.53,446.11 L164.71,446.17 L164.91,445.87 L165.11,445.12 L165.33,444.04 L165.55,442.72 L165.77,441.28 L165.99,439.81 L166.21,438.42 L166.43,437.01 L166.65,435.49 L166.87,433.94 L167.09,432.45 L167.31,431.12 L167.51,430.04 L167.71,429.15 L167.89,428.38 L168.07,427.77 L168.25,427.35 L168.44,427.16 L168.63,427.24 L168.85,427.60 L169.10,428.21 L169.35,429.05 L169.59,430.11 L169.79,431.37 L169.93,432.83 L170.00,434.69 L170.00,437.00 L169.96,439.52 L169.92,442.00 L169.92,444.20 L170.00,445.87 L170.17,446.99 L170.40,447.76 L170.67,448.25 L170.95,448.52 L171.24,448.64 L171.49,448.66 L171.72,448.57 L171.94,448.31 L172.15,447.90 L172.37,447.35 L172.58,446.67 L172.79,445.87 L173.01,444.85 L173.22,443.59 L173.43,442.20 L173.65,440.80 L173.87,439.50 L174.10,438.42 L174.33,437.53 L174.58,436.73 L174.83,436.03 L175.08,435.45 L175.34,435.00 L175.59,434.69 L175.84,434.49 L176.09,434.38 L176.34,434.40 L176.59,434.59 L176.84,434.98 L177.08,435.62 L177.30,436.66 L177.52,438.11 L177.74,439.76 L177.95,441.42 L178.16,442.90 L178.38,444.00 L178.60,444.78 L178.82,445.38 L179.04,445.81 L179.26,446.04 L179.48,446.06 L179.68,445.87 L179.88,445.38 L180.06,444.59 L180.24,443.60 L180.42,442.49 L180.61,441.35 L180.80,440.28 L181.01,439.19 L181.24,437.98 L181.46,436.75 L181.69,435.58 L181.91,434.56 L182.10,433.76 L182.28,433.19 L182.44,432.78 L182.59,432.50 L182.74,432.37 L182.88,432.36 L183.04,432.46 L183.19,432.71 L183.35,433.13 L183.50,433.67 L183.66,434.29 L183.81,434.96 L183.97,435.62 L184.12,436.30 L184.28,437.03 L184.43,437.80 L184.59,438.60 L184.74,439.43 L184.90,440.28 L185.05,441.18 L185.19,442.14 L185.34,443.13 L185.49,444.11 L185.65,445.03 L185.83,445.87 L186.03,446.62 L186.24,447.31 L186.47,447.96 L186.70,448.56 L186.92,449.10 L187.13,449.59 L187.33,449.99 L187.53,450.28 L187.71,450.52 L187.90,450.76 L188.08,451.06 L188.25,451.45 L188.42,452.03 L188.58,452.76 L188.74,453.55 L188.89,454.28 L189.04,454.86 L189.18,455.18 L189.31,455.25 L189.44,455.18 L189.55,454.94 L189.67,454.56 L189.79,454.01 L189.93,453.31 L190.07,452.39 L190.22,451.21 L190.37,449.88 L190.53,448.49 L190.69,447.12 L190.86,445.87 L191.03,444.66 L191.22,443.42 L191.42,442.20 L191.61,441.07 L191.80,440.10 L191.97,439.35 L192.14,438.79 L192.30,438.38 L192.45,438.13 L192.60,438.04 L192.75,438.13 L192.91,438.42 L193.06,438.96 L193.20,439.76 L193.35,440.74 L193.50,441.83 L193.66,442.94 L193.84,444.00 L194.04,445.14 L194.26,446.45 L194.49,447.79 L194.72,449.00 L194.94,449.96 L195.14,450.52 L195.31,450.65 L195.46,450.45 L195.59,450.00 L195.73,449.35 L195.89,448.57 L196.07,447.73 L196.29,446.73 L196.53,445.52 L196.79,444.18 L197.06,442.80 L197.32,441.47 L197.56,440.28 L197.79,439.19 L198.02,438.13 L198.25,437.11 L198.46,436.18 L198.67,435.37 L198.86,434.69 L199.04,434.15 L199.19,433.71 L199.33,433.39 L199.47,433.19 L199.62,433.12 L199.80,433.20 L199.99,433.43 L200.21,433.81 L200.44,434.32 L200.66,434.95 L200.89,435.70 L201.10,436.55 L201.29,437.59 L201.48,438.84 L201.66,440.20 L201.84,441.58 L202.02,442.88 L202.22,444.00 L202.42,444.98 L202.64,445.90 L202.86,446.74 L203.08,447.49 L203.30,448.13 L203.52,448.66 L203.74,449.02 L203.97,449.21 L204.19,449.30 L204.42,449.35 L204.63,449.42 L204.82,449.59 L205.00,449.93 L205.15,450.42 L205.30,450.93 L205.44,451.35 L205.59,451.56 L205.75,451.45 L205.93,450.94 L206.11,450.11 L206.29,449.07 L206.48,447.94 L206.67,446.83 L206.87,445.87 L207.08,444.99 L207.31,444.09 L207.53,443.22 L207.76,442.42 L207.98,441.74 L208.18,441.21 L208.35,440.83 L208.51,440.58 L208.66,440.43 L208.81,440.40 L208.96,440.47 L209.11,440.65 L209.26,440.98 L209.40,441.47 L209.55,442.06 L209.70,442.71 L209.86,443.38 L210.04,444.00 L210.23,444.61 L210.44,445.23 L210.65,445.87 L210.88,446.50 L211.11,447.12 L211.34,447.73 L211.58,448.39 L211.82,449.12 L212.07,449.85 L212.33,450.47 L212.58,450.91 L212.83,451.08 L213.08,450.94 L213.33,450.54 L213.59,449.96 L213.84,449.26 L214.08,448.49 L214.32,447.73 L214.55,446.89 L214.78,445.91 L215.01,444.86 L215.22,443.84 L215.43,442.90 L215.62,442.14 L215.80,441.51 L215.96,440.95 L216.11,440.48 L216.26,440.13 L216.40,439.93 L216.55,439.91 L216.71,440.10 L216.85,440.51 L217.00,441.06 L217.15,441.71 L217.31,442.40 L217.49,443.07 L217.68,443.76 L217.90,444.51 L218.13,445.31 L218.36,446.12 L218.58,446.93 L218.79,447.73 L218.99,448.63 L219.20,449.69 L219.40,450.75 L219.59,451.66 L219.76,452.25 L219.91,452.38 L220.03,451.87 L220.13,450.80 L220.21,449.42 L220.28,447.97 L220.33,446.70 L220.37,445.87 L220.65,395.60 M222.89,395.60 L223.17,445.87 L223.21,446.19 L223.28,446.71 L223.35,447.30 L223.44,447.81 L223.53,448.12 L223.63,448.10 L223.74,447.66 L223.85,446.88 L223.97,445.90 L224.10,444.85 L224.24,443.87 L224.38,443.07 L224.52,442.38 L224.67,441.67 L224.83,441.01 L224.99,440.51 L225.15,440.23 L225.31,440.28 L225.47,440.75 L225.63,441.59 L225.80,442.67 L225.96,443.83 L226.10,444.95 L226.24,445.87 L226.36,446.64 L226.47,447.38 L226.58,448.08 L226.67,448.69 L226.74,449.21 L226.80,449.59" stroke="#f7a650" stroke-width="0.6" fill="none" stroke-linejoin="round"/>
<line x1="118.3" x2="226.8" y1="395.6" y2="395.6" stroke="#858585" stroke-width="0.9"/>
<line x1="118.3" x2="226.8" y1="471.6" y2="471.6" stroke="#858585" stroke-width="0.9"/>
</svg></body></html>
